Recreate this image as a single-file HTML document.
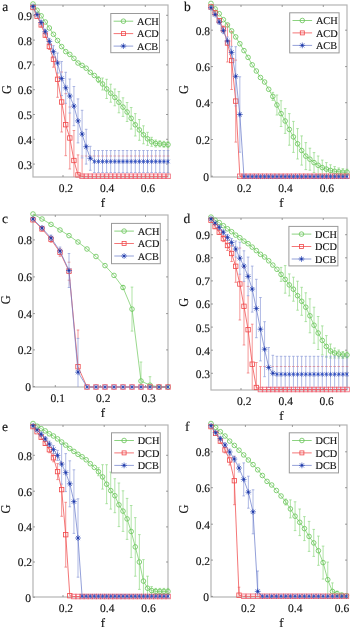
<!DOCTYPE html><html><head><meta charset="utf-8"><style>html,body{margin:0;padding:0;background:#fff;width:350px;height:629px;overflow:hidden}svg{display:block;filter:blur(0.3px)}text{font-family:"Liberation Serif",serif;fill:#151515;stroke:#151515;stroke-width:0.15px;text-rendering:geometricPrecision}</style></head><body>
<svg width="350" height="629" viewBox="0 0 350 629">
<defs>
<clipPath id="cla"><rect x="30" y="2" width="141" height="175.5"/></clipPath>
<clipPath id="cea"><rect x="30" y="5" width="141" height="172"/></clipPath>
<clipPath id="clb"><rect x="208" y="2" width="142" height="175.5"/></clipPath>
<clipPath id="ceb"><rect x="208" y="5" width="142" height="172"/></clipPath>
<clipPath id="clc"><rect x="30" y="212" width="141" height="175.5"/></clipPath>
<clipPath id="cec"><rect x="30" y="215" width="141" height="172"/></clipPath>
<clipPath id="cld"><rect x="208" y="215" width="142" height="175.5"/></clipPath>
<clipPath id="ced"><rect x="208" y="218" width="142" height="172"/></clipPath>
<clipPath id="cle"><rect x="30" y="422" width="141" height="175.5"/></clipPath>
<clipPath id="cee"><rect x="30" y="425" width="141" height="172"/></clipPath>
<clipPath id="clf"><rect x="208" y="422" width="142" height="175.5"/></clipPath>
<clipPath id="cef"><rect x="208" y="425" width="142" height="172"/></clipPath>
<filter id="bl" x="-5%" y="-5%" width="110%" height="110%"><feGaussianBlur stdDeviation="0.35"/></filter>
</defs>
<rect width="350" height="629" fill="#fff"/>
<g><rect x="33" y="5" width="135" height="172" fill="none" stroke="#b4b4b4" stroke-width="1.2"/><path d="M63 177v-2M63 5v2M104.2 177v-2M104.2 5v2M145.3 177v-2M145.3 5v2M33 15.3h2M168 15.3h-2M33 40.1h2M168 40.1h-2M33 64.9h2M168 64.9h-2M33 89.7h2M168 89.7h-2M33 114.5h2M168 114.5h-2M33 139.3h2M168 139.3h-2M33 164.1h2M168 164.1h-2" stroke="#777" stroke-width="0.7" fill="none"/><text x="65.9" y="191.6" font-size="11.5" text-anchor="middle">0.2</text><text x="107.1" y="191.6" font-size="11.5" text-anchor="middle">0.4</text><text x="147.9" y="191.6" font-size="11.5" text-anchor="middle">0.6</text><text x="32" y="19.7" font-size="11.5" text-anchor="end">0.9</text><text x="32" y="44.5" font-size="11.5" text-anchor="end">0.8</text><text x="32" y="69.3" font-size="11.5" text-anchor="end">0.7</text><text x="32" y="94.1" font-size="11.5" text-anchor="end">0.6</text><text x="32" y="118.9" font-size="11.5" text-anchor="end">0.5</text><text x="32" y="143.7" font-size="11.5" text-anchor="end">0.4</text><text x="32" y="168.5" font-size="11.5" text-anchor="end">0.3</text><text x="102.8" y="207.1" font-size="12.8" text-anchor="middle">f</text><text x="0" y="0" font-size="13.5" text-anchor="middle" transform="translate(6.1 89.4) rotate(-90) scale(0.92 1)" dy="4.4">G</text><text x="2.2" y="11.4" font-size="13.5">a</text><g clip-path="url(#cea)"><path d="M98.45 76.6V82.6M97.15 76.6h2.6M97.15 82.6h2.6M102.55 78V90M101.25 78h2.6M101.25 90h2.6M106.64 79.3V98.5M105.34 79.3h2.6M105.34 98.5h2.6M110.73 84.2V102.2M109.43 84.2h2.6M109.43 102.2h2.6M114.82 89V105.8M113.52 89h2.6M113.52 105.8h2.6M118.91 91.6V112.8M117.61 91.6h2.6M117.61 112.8h2.6M123 97.8V116.4M121.7 97.8h2.6M121.7 116.4h2.6M127.09 102.5V121.5M125.79 102.5h2.6M125.79 121.5h2.6M131.18 107.5V129.1M129.88 107.5h2.6M129.88 129.1h2.6M135.27 113.6V136M133.97 113.6h2.6M133.97 136h2.6M139.36 119.5V140.3M138.06 119.5h2.6M138.06 140.3h2.6M143.45 125.8V143.8M142.15 125.8h2.6M142.15 143.8h2.6M147.55 132.3V145.3M146.25 132.3h2.6M146.25 145.3h2.6M151.64 137.3V146.3M150.34 137.3h2.6M150.34 146.3h2.6M155.73 140V147M154.43 140h2.6M154.43 147h2.6M159.82 140.8V146.8M158.52 140.8h2.6M158.52 146.8h2.6M163.91 141.3V147.3M162.61 141.3h2.6M162.61 147.3h2.6M168 141.6V147.6M166.7 141.6h2.6M166.7 147.6h2.6" stroke="#8fd882" stroke-width="0.7" fill="none"/><path d="M41.18 24.5V26.9M39.88 22.9h2.6M39.88 26.9h2.6M45.27 33.7V37.1M43.97 33.1h2.6M43.97 37.1h2.6M49.36 44.4V49.5M48.06 43.5h2.6M48.06 49.5h2.6M53.45 57.7V67.2M52.15 51.2h2.6M52.15 67.2h2.6M57.55 73V97.3M56.25 61.3h2.6M56.25 97.3h2.6M61.64 95.5V132M60.34 72h2.6M60.34 132h2.6M65.73 103.3V155.7M64.43 93.7h2.6M64.43 155.7h2.6M69.82 113V169M68.52 107h2.6M68.52 169h2.6M73.91 130.5V190.5M72.61 130.5h2.6M72.61 190.5h2.6M78 154.9V194.9M76.7 154.9h2.6M76.7 194.9h2.6M82.09 157.9V196.6M80.79 156h2.6M80.79 196.6h2.6M84.88 156h2.6M88.97 156h2.6M93.06 156h2.6M97.15 156h2.6M101.25 156h2.6M105.34 156h2.6M109.43 156h2.6M113.52 156h2.6M117.61 156h2.6M121.7 156h2.6M125.79 156h2.6M129.88 156h2.6M133.97 156h2.6M138.06 156h2.6M142.15 156h2.6M146.25 156h2.6M150.34 156h2.6M154.43 156h2.6M158.52 156h2.6M162.61 156h2.6M166.7 156h2.6" stroke="#f06a6a" stroke-width="0.7" fill="none"/><path d="M41.18 20.5V24.5M39.88 20.5h2.6M39.88 24.5h2.6M45.27 29.7V33.7M43.97 29.7h2.6M43.97 33.7h2.6M49.36 38.4V44.4M48.06 38.4h2.6M48.06 44.4h2.6M53.45 45.7V57.7M52.15 45.7h2.6M52.15 57.7h2.6M57.55 53V73M56.25 53h2.6M56.25 73h2.6M61.64 61.5V95.5M60.34 61.5h2.6M60.34 95.5h2.6M65.73 72.3V103.3M64.43 72.3h2.6M64.43 103.3h2.6M69.82 79V113M68.52 79h2.6M68.52 113h2.6M73.91 86.5V125.7M72.61 86.5h2.6M72.61 125.7h2.6M78 98.9V142.9M76.7 98.9h2.6M76.7 142.9h2.6M82.09 110.3V157.9M80.79 110.3h2.6M80.79 157.9h2.6M86.18 129.3V164.1M84.88 129.3h2.6M84.88 164.1h2.6M90.27 146.3V170.3M88.97 146.3h2.6M88.97 170.3h2.6M94.36 150.5V172.5M93.06 150.5h2.6M93.06 172.5h2.6M98.45 150.5V172.5M97.15 150.5h2.6M97.15 172.5h2.6M102.55 150.5V172.5M101.25 150.5h2.6M101.25 172.5h2.6M106.64 150.5V172.5M105.34 150.5h2.6M105.34 172.5h2.6M110.73 150.5V172.5M109.43 150.5h2.6M109.43 172.5h2.6M114.82 150.5V172.5M113.52 150.5h2.6M113.52 172.5h2.6M118.91 150.5V172.5M117.61 150.5h2.6M117.61 172.5h2.6M123 150.5V172.5M121.7 150.5h2.6M121.7 172.5h2.6M127.09 150.5V172.5M125.79 150.5h2.6M125.79 172.5h2.6M131.18 150.5V172.5M129.88 150.5h2.6M129.88 172.5h2.6M135.27 150.5V172.5M133.97 150.5h2.6M133.97 172.5h2.6M139.36 150.5V172.5M138.06 150.5h2.6M138.06 172.5h2.6M143.45 150.5V172.5M142.15 150.5h2.6M142.15 172.5h2.6M147.55 150.5V172.5M146.25 150.5h2.6M146.25 172.5h2.6M151.64 150.5V172.5M150.34 150.5h2.6M150.34 172.5h2.6M155.73 150.5V172.5M154.43 150.5h2.6M154.43 172.5h2.6M159.82 150.5V172.5M158.52 150.5h2.6M158.52 172.5h2.6M163.91 150.5V172.5M162.61 150.5h2.6M162.61 172.5h2.6M168 150.5V172.5M166.7 150.5h2.6M166.7 172.5h2.6" stroke="#8d9bd8" stroke-width="0.7" fill="none"/></g><polyline points="33,4 37.09,10.2 41.18,15.8 45.27,22 49.36,28 53.45,34.3 57.55,40.5 61.64,46.6 65.73,51.6 69.82,54.4 73.91,58.4 78,63 82.09,65.4 86.18,68.2 90.27,72.3 94.36,75.5 98.45,79.6 102.55,84 106.64,88.9 110.73,93.2 114.82,97.4 118.91,102.2 123,107.1 127.09,112 131.18,118.3 135.27,124.8 139.36,129.9 143.45,134.8 147.55,138.8 151.64,141.8 155.73,143.5 159.82,143.8 163.91,144.3 168,144.6" fill="none" stroke="#78cc68" stroke-width="0.75"/><circle cx="33" cy="4" r="2.3" fill="none" stroke="#66c456" stroke-width="0.8"/><circle cx="37.09" cy="10.2" r="2.3" fill="none" stroke="#66c456" stroke-width="0.8"/><circle cx="41.18" cy="15.8" r="2.3" fill="none" stroke="#66c456" stroke-width="0.8"/><circle cx="45.27" cy="22" r="2.3" fill="none" stroke="#66c456" stroke-width="0.8"/><circle cx="49.36" cy="28" r="2.3" fill="none" stroke="#66c456" stroke-width="0.8"/><circle cx="53.45" cy="34.3" r="2.3" fill="none" stroke="#66c456" stroke-width="0.8"/><circle cx="57.55" cy="40.5" r="2.3" fill="none" stroke="#66c456" stroke-width="0.8"/><circle cx="61.64" cy="46.6" r="2.3" fill="none" stroke="#66c456" stroke-width="0.8"/><circle cx="65.73" cy="51.6" r="2.3" fill="none" stroke="#66c456" stroke-width="0.8"/><circle cx="69.82" cy="54.4" r="2.3" fill="none" stroke="#66c456" stroke-width="0.8"/><circle cx="73.91" cy="58.4" r="2.3" fill="none" stroke="#66c456" stroke-width="0.8"/><circle cx="78" cy="63" r="2.3" fill="none" stroke="#66c456" stroke-width="0.8"/><circle cx="82.09" cy="65.4" r="2.3" fill="none" stroke="#66c456" stroke-width="0.8"/><circle cx="86.18" cy="68.2" r="2.3" fill="none" stroke="#66c456" stroke-width="0.8"/><circle cx="90.27" cy="72.3" r="2.3" fill="none" stroke="#66c456" stroke-width="0.8"/><circle cx="94.36" cy="75.5" r="2.3" fill="none" stroke="#66c456" stroke-width="0.8"/><circle cx="98.45" cy="79.6" r="2.3" fill="none" stroke="#66c456" stroke-width="0.8"/><circle cx="102.55" cy="84" r="2.3" fill="none" stroke="#66c456" stroke-width="0.8"/><circle cx="106.64" cy="88.9" r="2.3" fill="none" stroke="#66c456" stroke-width="0.8"/><circle cx="110.73" cy="93.2" r="2.3" fill="none" stroke="#66c456" stroke-width="0.8"/><circle cx="114.82" cy="97.4" r="2.3" fill="none" stroke="#66c456" stroke-width="0.8"/><circle cx="118.91" cy="102.2" r="2.3" fill="none" stroke="#66c456" stroke-width="0.8"/><circle cx="123" cy="107.1" r="2.3" fill="none" stroke="#66c456" stroke-width="0.8"/><circle cx="127.09" cy="112" r="2.3" fill="none" stroke="#66c456" stroke-width="0.8"/><circle cx="131.18" cy="118.3" r="2.3" fill="none" stroke="#66c456" stroke-width="0.8"/><circle cx="135.27" cy="124.8" r="2.3" fill="none" stroke="#66c456" stroke-width="0.8"/><circle cx="139.36" cy="129.9" r="2.3" fill="none" stroke="#66c456" stroke-width="0.8"/><circle cx="143.45" cy="134.8" r="2.3" fill="none" stroke="#66c456" stroke-width="0.8"/><circle cx="147.55" cy="138.8" r="2.3" fill="none" stroke="#66c456" stroke-width="0.8"/><circle cx="151.64" cy="141.8" r="2.3" fill="none" stroke="#66c456" stroke-width="0.8"/><circle cx="155.73" cy="143.5" r="2.3" fill="none" stroke="#66c456" stroke-width="0.8"/><circle cx="159.82" cy="143.8" r="2.3" fill="none" stroke="#66c456" stroke-width="0.8"/><circle cx="163.91" cy="144.3" r="2.3" fill="none" stroke="#66c456" stroke-width="0.8"/><circle cx="168" cy="144.6" r="2.3" fill="none" stroke="#66c456" stroke-width="0.8"/><polyline points="33,7.5 37.09,16.3 41.18,24.9 45.27,35.1 49.36,46.5 53.45,59.2 57.55,79.3 61.64,102 65.73,124.7 69.82,138 73.91,160.5 78,174.9 82.09,176.3 86.18,176.3 90.27,176.3 94.36,176.3 98.45,176.3 102.55,176.3 106.64,176.3 110.73,176.3 114.82,176.3 118.91,176.3 123,176.3 127.09,176.3 131.18,176.3 135.27,176.3 139.36,176.3 143.45,176.3 147.55,176.3 151.64,176.3 155.73,176.3 159.82,176.3 163.91,176.3 168,176.3" fill="none" stroke="#f0484a" stroke-width="0.75"/><rect x="30.8" y="5.3" width="4.4" height="4.4" fill="none" stroke="#f0484a" stroke-width="0.8"/><rect x="34.89" y="14.1" width="4.4" height="4.4" fill="none" stroke="#f0484a" stroke-width="0.8"/><rect x="38.98" y="22.7" width="4.4" height="4.4" fill="none" stroke="#f0484a" stroke-width="0.8"/><rect x="43.07" y="32.9" width="4.4" height="4.4" fill="none" stroke="#f0484a" stroke-width="0.8"/><rect x="47.16" y="44.3" width="4.4" height="4.4" fill="none" stroke="#f0484a" stroke-width="0.8"/><rect x="51.25" y="57" width="4.4" height="4.4" fill="none" stroke="#f0484a" stroke-width="0.8"/><rect x="55.35" y="77.1" width="4.4" height="4.4" fill="none" stroke="#f0484a" stroke-width="0.8"/><rect x="59.44" y="99.8" width="4.4" height="4.4" fill="none" stroke="#f0484a" stroke-width="0.8"/><rect x="63.53" y="122.5" width="4.4" height="4.4" fill="none" stroke="#f0484a" stroke-width="0.8"/><rect x="67.62" y="135.8" width="4.4" height="4.4" fill="none" stroke="#f0484a" stroke-width="0.8"/><rect x="71.71" y="158.3" width="4.4" height="4.4" fill="none" stroke="#f0484a" stroke-width="0.8"/><rect x="75.8" y="172.7" width="4.4" height="4.4" fill="none" stroke="#f0484a" stroke-width="0.8"/><rect x="79.79" y="174" width="4.6" height="4.6" fill="none" stroke="#f06070" stroke-width="0.8"/><rect x="83.88" y="174" width="4.6" height="4.6" fill="none" stroke="#f06070" stroke-width="0.8"/><rect x="87.97" y="174" width="4.6" height="4.6" fill="none" stroke="#f06070" stroke-width="0.8"/><rect x="92.06" y="174" width="4.6" height="4.6" fill="none" stroke="#f06070" stroke-width="0.8"/><rect x="96.15" y="174" width="4.6" height="4.6" fill="none" stroke="#f06070" stroke-width="0.8"/><rect x="100.25" y="174" width="4.6" height="4.6" fill="none" stroke="#f06070" stroke-width="0.8"/><rect x="104.34" y="174" width="4.6" height="4.6" fill="none" stroke="#f06070" stroke-width="0.8"/><rect x="108.43" y="174" width="4.6" height="4.6" fill="none" stroke="#f06070" stroke-width="0.8"/><rect x="112.52" y="174" width="4.6" height="4.6" fill="none" stroke="#f06070" stroke-width="0.8"/><rect x="116.61" y="174" width="4.6" height="4.6" fill="none" stroke="#f06070" stroke-width="0.8"/><rect x="120.7" y="174" width="4.6" height="4.6" fill="none" stroke="#f06070" stroke-width="0.8"/><rect x="124.79" y="174" width="4.6" height="4.6" fill="none" stroke="#f06070" stroke-width="0.8"/><rect x="128.88" y="174" width="4.6" height="4.6" fill="none" stroke="#f06070" stroke-width="0.8"/><rect x="132.97" y="174" width="4.6" height="4.6" fill="none" stroke="#f06070" stroke-width="0.8"/><rect x="137.06" y="174" width="4.6" height="4.6" fill="none" stroke="#f06070" stroke-width="0.8"/><rect x="141.15" y="174" width="4.6" height="4.6" fill="none" stroke="#f06070" stroke-width="0.8"/><rect x="145.25" y="174" width="4.6" height="4.6" fill="none" stroke="#f06070" stroke-width="0.8"/><rect x="149.34" y="174" width="4.6" height="4.6" fill="none" stroke="#f06070" stroke-width="0.8"/><rect x="153.43" y="174" width="4.6" height="4.6" fill="none" stroke="#f06070" stroke-width="0.8"/><rect x="157.52" y="174" width="4.6" height="4.6" fill="none" stroke="#f06070" stroke-width="0.8"/><rect x="161.61" y="174" width="4.6" height="4.6" fill="none" stroke="#f06070" stroke-width="0.8"/><rect x="165.7" y="174" width="4.6" height="4.6" fill="none" stroke="#f06070" stroke-width="0.8"/><polyline points="33,6.4 37.09,14.6 41.18,22.5 45.27,31.7 49.36,41.4 53.45,51.7 57.55,63 61.64,78.5 65.73,87.8 69.82,96 73.91,106.1 78,120.9 82.09,134.1 86.18,146.7 90.27,158.3 94.36,161.5 98.45,161.5 102.55,161.5 106.64,161.5 110.73,161.5 114.82,161.5 118.91,161.5 123,161.5 127.09,161.5 131.18,161.5 135.27,161.5 139.36,161.5 143.45,161.5 147.55,161.5 151.64,161.5 155.73,161.5 159.82,161.5 163.91,161.5 168,161.5" fill="none" stroke="#6f80cc" stroke-width="0.75"/><path d="M30.1 6.4h5.8M33 3.5v5.8M30.91 4.31l4.18 4.18M30.91 8.49l4.18 -4.18" stroke="#3550b8" stroke-width="0.72" stroke-opacity="1" fill="none"/><circle cx="33" cy="6.4" r="1.1" fill="#1f3aa8"/><path d="M34.19 14.6h5.8M37.09 11.7v5.8M35 12.51l4.18 4.18M35 16.69l4.18 -4.18" stroke="#3550b8" stroke-width="0.72" stroke-opacity="1" fill="none"/><circle cx="37.09" cy="14.6" r="1.1" fill="#1f3aa8"/><path d="M38.28 22.5h5.8M41.18 19.6v5.8M39.09 20.41l4.18 4.18M39.09 24.59l4.18 -4.18" stroke="#3550b8" stroke-width="0.72" stroke-opacity="1" fill="none"/><circle cx="41.18" cy="22.5" r="1.1" fill="#1f3aa8"/><path d="M42.37 31.7h5.8M45.27 28.8v5.8M43.18 29.61l4.18 4.18M43.18 33.79l4.18 -4.18" stroke="#3550b8" stroke-width="0.72" stroke-opacity="1" fill="none"/><circle cx="45.27" cy="31.7" r="1.1" fill="#1f3aa8"/><path d="M46.46 41.4h5.8M49.36 38.5v5.8M47.28 39.31l4.18 4.18M47.28 43.49l4.18 -4.18" stroke="#3550b8" stroke-width="0.72" stroke-opacity="1" fill="none"/><circle cx="49.36" cy="41.4" r="1.1" fill="#1f3aa8"/><path d="M50.55 51.7h5.8M53.45 48.8v5.8M51.37 49.61l4.18 4.18M51.37 53.79l4.18 -4.18" stroke="#3550b8" stroke-width="0.72" stroke-opacity="1" fill="none"/><circle cx="53.45" cy="51.7" r="1.1" fill="#1f3aa8"/><path d="M54.65 63h5.8M57.55 60.1v5.8M55.46 60.91l4.18 4.18M55.46 65.09l4.18 -4.18" stroke="#3550b8" stroke-width="0.72" stroke-opacity="1" fill="none"/><circle cx="57.55" cy="63" r="1.1" fill="#1f3aa8"/><path d="M58.74 78.5h5.8M61.64 75.6v5.8M59.55 76.41l4.18 4.18M59.55 80.59l4.18 -4.18" stroke="#3550b8" stroke-width="0.72" stroke-opacity="1" fill="none"/><circle cx="61.64" cy="78.5" r="1.1" fill="#1f3aa8"/><path d="M62.83 87.8h5.8M65.73 84.9v5.8M63.64 85.71l4.18 4.18M63.64 89.89l4.18 -4.18" stroke="#3550b8" stroke-width="0.72" stroke-opacity="1" fill="none"/><circle cx="65.73" cy="87.8" r="1.1" fill="#1f3aa8"/><path d="M66.92 96h5.8M69.82 93.1v5.8M67.73 93.91l4.18 4.18M67.73 98.09l4.18 -4.18" stroke="#3550b8" stroke-width="0.72" stroke-opacity="1" fill="none"/><circle cx="69.82" cy="96" r="1.1" fill="#1f3aa8"/><path d="M71.01 106.1h5.8M73.91 103.2v5.8M71.82 104.01l4.18 4.18M71.82 108.19l4.18 -4.18" stroke="#3550b8" stroke-width="0.72" stroke-opacity="1" fill="none"/><circle cx="73.91" cy="106.1" r="1.1" fill="#1f3aa8"/><path d="M75.1 120.9h5.8M78 118v5.8M75.91 118.81l4.18 4.18M75.91 122.99l4.18 -4.18" stroke="#3550b8" stroke-width="0.72" stroke-opacity="1" fill="none"/><circle cx="78" cy="120.9" r="1.1" fill="#1f3aa8"/><path d="M79.19 134.1h5.8M82.09 131.2v5.8M80 132.01l4.18 4.18M80 136.19l4.18 -4.18" stroke="#3550b8" stroke-width="0.72" stroke-opacity="1" fill="none"/><circle cx="82.09" cy="134.1" r="1.1" fill="#1f3aa8"/><path d="M83.28 146.7h5.8M86.18 143.8v5.8M84.09 144.61l4.18 4.18M84.09 148.79l4.18 -4.18" stroke="#3550b8" stroke-width="0.72" stroke-opacity="1" fill="none"/><circle cx="86.18" cy="146.7" r="1.1" fill="#1f3aa8"/><path d="M87.37 158.3h5.8M90.27 155.4v5.8M88.18 156.21l4.18 4.18M88.18 160.39l4.18 -4.18" stroke="#3550b8" stroke-width="0.72" stroke-opacity="1" fill="none"/><circle cx="90.27" cy="158.3" r="1.1" fill="#1f3aa8"/><path d="M94.36 159v5M92.56 159.7l3.6 3.6M92.56 163.3l3.6 -3.6" stroke="#3f56bc" stroke-width="0.7" stroke-opacity="1" fill="none"/><circle cx="94.36" cy="161.5" r="1" fill="#2c50c4"/><path d="M98.45 159v5M96.65 159.7l3.6 3.6M96.65 163.3l3.6 -3.6" stroke="#3f56bc" stroke-width="0.7" stroke-opacity="1" fill="none"/><circle cx="98.45" cy="161.5" r="1" fill="#2c50c4"/><path d="M102.55 159v5M100.75 159.7l3.6 3.6M100.75 163.3l3.6 -3.6" stroke="#3f56bc" stroke-width="0.7" stroke-opacity="1" fill="none"/><circle cx="102.55" cy="161.5" r="1" fill="#2c50c4"/><path d="M106.64 159v5M104.84 159.7l3.6 3.6M104.84 163.3l3.6 -3.6" stroke="#3f56bc" stroke-width="0.7" stroke-opacity="1" fill="none"/><circle cx="106.64" cy="161.5" r="1" fill="#2c50c4"/><path d="M110.73 159v5M108.93 159.7l3.6 3.6M108.93 163.3l3.6 -3.6" stroke="#3f56bc" stroke-width="0.7" stroke-opacity="1" fill="none"/><circle cx="110.73" cy="161.5" r="1" fill="#2c50c4"/><path d="M114.82 159v5M113.02 159.7l3.6 3.6M113.02 163.3l3.6 -3.6" stroke="#3f56bc" stroke-width="0.7" stroke-opacity="1" fill="none"/><circle cx="114.82" cy="161.5" r="1" fill="#2c50c4"/><path d="M118.91 159v5M117.11 159.7l3.6 3.6M117.11 163.3l3.6 -3.6" stroke="#3f56bc" stroke-width="0.7" stroke-opacity="1" fill="none"/><circle cx="118.91" cy="161.5" r="1" fill="#2c50c4"/><path d="M123 159v5M121.2 159.7l3.6 3.6M121.2 163.3l3.6 -3.6" stroke="#3f56bc" stroke-width="0.7" stroke-opacity="1" fill="none"/><circle cx="123" cy="161.5" r="1" fill="#2c50c4"/><path d="M127.09 159v5M125.29 159.7l3.6 3.6M125.29 163.3l3.6 -3.6" stroke="#3f56bc" stroke-width="0.7" stroke-opacity="1" fill="none"/><circle cx="127.09" cy="161.5" r="1" fill="#2c50c4"/><path d="M131.18 159v5M129.38 159.7l3.6 3.6M129.38 163.3l3.6 -3.6" stroke="#3f56bc" stroke-width="0.7" stroke-opacity="1" fill="none"/><circle cx="131.18" cy="161.5" r="1" fill="#2c50c4"/><path d="M135.27 159v5M133.47 159.7l3.6 3.6M133.47 163.3l3.6 -3.6" stroke="#3f56bc" stroke-width="0.7" stroke-opacity="1" fill="none"/><circle cx="135.27" cy="161.5" r="1" fill="#2c50c4"/><path d="M139.36 159v5M137.56 159.7l3.6 3.6M137.56 163.3l3.6 -3.6" stroke="#3f56bc" stroke-width="0.7" stroke-opacity="1" fill="none"/><circle cx="139.36" cy="161.5" r="1" fill="#2c50c4"/><path d="M143.45 159v5M141.65 159.7l3.6 3.6M141.65 163.3l3.6 -3.6" stroke="#3f56bc" stroke-width="0.7" stroke-opacity="1" fill="none"/><circle cx="143.45" cy="161.5" r="1" fill="#2c50c4"/><path d="M147.55 159v5M145.75 159.7l3.6 3.6M145.75 163.3l3.6 -3.6" stroke="#3f56bc" stroke-width="0.7" stroke-opacity="1" fill="none"/><circle cx="147.55" cy="161.5" r="1" fill="#2c50c4"/><path d="M151.64 159v5M149.84 159.7l3.6 3.6M149.84 163.3l3.6 -3.6" stroke="#3f56bc" stroke-width="0.7" stroke-opacity="1" fill="none"/><circle cx="151.64" cy="161.5" r="1" fill="#2c50c4"/><path d="M155.73 159v5M153.93 159.7l3.6 3.6M153.93 163.3l3.6 -3.6" stroke="#3f56bc" stroke-width="0.7" stroke-opacity="1" fill="none"/><circle cx="155.73" cy="161.5" r="1" fill="#2c50c4"/><path d="M159.82 159v5M158.02 159.7l3.6 3.6M158.02 163.3l3.6 -3.6" stroke="#3f56bc" stroke-width="0.7" stroke-opacity="1" fill="none"/><circle cx="159.82" cy="161.5" r="1" fill="#2c50c4"/><path d="M163.91 159v5M162.11 159.7l3.6 3.6M162.11 163.3l3.6 -3.6" stroke="#3f56bc" stroke-width="0.7" stroke-opacity="1" fill="none"/><circle cx="163.91" cy="161.5" r="1" fill="#2c50c4"/><path d="M168 159v5M166.2 159.7l3.6 3.6M166.2 163.3l3.6 -3.6" stroke="#3f56bc" stroke-width="0.7" stroke-opacity="1" fill="none"/><circle cx="168" cy="161.5" r="1" fill="#2c50c4"/><rect x="110.8" y="13.5" width="48.7" height="39.2" fill="#fff" stroke="#9a9a9a" stroke-width="1"/><path d="M113.6 21.2h19.6" stroke="#66c456" stroke-width="0.75"/><circle cx="123.4" cy="21.2" r="2.3" fill="none" stroke="#66c456" stroke-width="0.8"/><text x="137" y="24.8" font-size="10.3">ACH</text><path d="M113.6 33.6h19.6" stroke="#f0484a" stroke-width="0.75"/><rect x="121.4" y="31.6" width="4" height="4" fill="none" stroke="#f0484a" stroke-width="0.8"/><text x="137" y="37.2" font-size="10.3">ACD</text><path d="M113.6 46.1h19.6" stroke="#6f80cc" stroke-width="0.75"/><path d="M120.5 46.1h5.8M123.4 43.2v5.8M121.31 44.01l4.18 4.18M121.31 48.19l4.18 -4.18" stroke="#3550b8" stroke-width="0.72" stroke-opacity="1" fill="none"/><circle cx="123.4" cy="46.1" r="1.1" fill="#1f3aa8"/><text x="137" y="49.7" font-size="10.3">ACB</text></g>
<g><rect x="211" y="5" width="136" height="172" fill="none" stroke="#b4b4b4" stroke-width="1.2"/><path d="M241 177v-2M241 5v2M282.2 177v-2M282.2 5v2M323.3 177v-2M323.3 5v2M211 176.2h2M347 176.2h-2M211 139.5h2M347 139.5h-2M211 102.7h2M347 102.7h-2M211 66.6h2M347 66.6h-2M211 30.2h2M347 30.2h-2" stroke="#777" stroke-width="0.7" fill="none"/><text x="244.3" y="191.6" font-size="11.5" text-anchor="middle">0.2</text><text x="285.5" y="191.6" font-size="11.5" text-anchor="middle">0.4</text><text x="326.9" y="191.6" font-size="11.5" text-anchor="middle">0.6</text><text x="208.9" y="180.6" font-size="11.5" text-anchor="end">0</text><text x="210" y="143.9" font-size="11.5" text-anchor="end">0.2</text><text x="210" y="107.1" font-size="11.5" text-anchor="end">0.4</text><text x="210" y="71" font-size="11.5" text-anchor="end">0.6</text><text x="210" y="34.6" font-size="11.5" text-anchor="end">0.8</text><text x="281.3" y="207.1" font-size="12.8" text-anchor="middle">f</text><text x="0" y="0" font-size="13.5" text-anchor="middle" transform="translate(183.8 89.5) rotate(-90) scale(0.92 1)" dy="4.4">G</text><text x="184" y="11.4" font-size="13.5">b</text><g clip-path="url(#ceb)"><path d="M272.82 92.4V100.4M271.52 92.4h2.6M271.52 100.4h2.6M276.94 95V115M275.64 95h2.6M275.64 115h2.6M281.06 100.7V126.5M279.76 100.7h2.6M279.76 126.5h2.6M285.18 108.6V133.4M283.88 108.6h2.6M283.88 133.4h2.6M289.3 113.6V145.2M288 113.6h2.6M288 145.2h2.6M293.42 121.4V152.4M292.12 121.4h2.6M292.12 152.4h2.6M297.55 128.6V159M296.25 128.6h2.6M296.25 159h2.6M301.67 135.9V165.1M300.37 135.9h2.6M300.37 165.1h2.6M305.79 142.6V169.6M304.49 142.6h2.6M304.49 169.6h2.6M309.91 148.2V170.2M308.61 148.2h2.6M308.61 170.2h2.6M314.03 152.6V172.6M312.73 152.6h2.6M312.73 172.6h2.6M318.15 156V174.6M316.85 156h2.6M316.85 174.6h2.6M322.27 160.1V175.1M320.97 160.1h2.6M320.97 175.1h2.6M326.39 162.6V175.6M325.09 162.6h2.6M325.09 175.6h2.6M330.52 164.8V176M329.22 164.8h2.6M329.22 176h2.6M334.64 166.6V176M333.34 166.6h2.6M333.34 176h2.6M338.76 168V175.6M337.46 168h2.6M337.46 175.6h2.6M342.88 168.7V175.7M341.58 168.7h2.6M341.58 175.7h2.6M347 169.2V175.2M345.7 169.2h2.6M345.7 175.2h2.6" stroke="#8fd882" stroke-width="0.7" fill="none"/><path d="M215.12 10.9V14.9M213.82 10.9h2.6M213.82 14.9h2.6M219.24 18.6V20M217.94 18.6h2.6M217.94 22.6h2.6M223.36 26V27.7M222.06 26h2.6M222.06 32h2.6M227.48 24V37M227.48 45V62M226.18 24h2.6M226.18 62h2.6M231.61 31.5V46.4M231.61 58.4V89.5M230.31 31.5h2.6M230.31 89.5h2.6M235.73 105.9V142.1M234.43 60.1h2.6M234.43 142.1h2.6" stroke="#f06a6a" stroke-width="0.7" fill="none"/><path d="M219.24 20V24M217.94 20h2.6M217.94 24h2.6M223.36 27.7V33.7M222.06 27.7h2.6M222.06 33.7h2.6M227.48 37V45M226.18 37h2.6M226.18 45h2.6M231.61 46.4V58.4M230.31 46.4h2.6M230.31 58.4h2.6M235.73 46.7V105.9M234.43 46.7h2.6M234.43 105.9h2.6M239.85 76.8V152.2M238.55 76.8h2.6M238.55 152.2h2.6" stroke="#8d9bd8" stroke-width="0.7" fill="none"/></g><polyline points="211,3.4 215.12,8.9 219.24,13.7 223.36,19.7 227.48,24.9 231.61,30.9 235.73,36.9 239.85,43.7 243.97,50.6 248.09,57.4 252.21,64.8 256.33,71 260.45,77.5 264.58,82 268.7,89.3 272.82,96.4 276.94,105 281.06,113.6 285.18,121 289.3,129.4 293.42,136.9 297.55,143.8 301.67,150.5 305.79,156.1 309.91,159.2 314.03,162.6 318.15,165.3 322.27,167.6 326.39,169.1 330.52,170.4 334.64,171.3 338.76,171.8 342.88,172.2 347,172.2" fill="none" stroke="#78cc68" stroke-width="0.75"/><circle cx="211" cy="3.4" r="2.3" fill="none" stroke="#66c456" stroke-width="0.8"/><circle cx="215.12" cy="8.9" r="2.3" fill="none" stroke="#66c456" stroke-width="0.8"/><circle cx="219.24" cy="13.7" r="2.3" fill="none" stroke="#66c456" stroke-width="0.8"/><circle cx="223.36" cy="19.7" r="2.3" fill="none" stroke="#66c456" stroke-width="0.8"/><circle cx="227.48" cy="24.9" r="2.3" fill="none" stroke="#66c456" stroke-width="0.8"/><circle cx="231.61" cy="30.9" r="2.3" fill="none" stroke="#66c456" stroke-width="0.8"/><circle cx="235.73" cy="36.9" r="2.3" fill="none" stroke="#66c456" stroke-width="0.8"/><circle cx="239.85" cy="43.7" r="2.3" fill="none" stroke="#66c456" stroke-width="0.8"/><circle cx="243.97" cy="50.6" r="2.3" fill="none" stroke="#66c456" stroke-width="0.8"/><circle cx="248.09" cy="57.4" r="2.3" fill="none" stroke="#66c456" stroke-width="0.8"/><circle cx="252.21" cy="64.8" r="2.3" fill="none" stroke="#66c456" stroke-width="0.8"/><circle cx="256.33" cy="71" r="2.3" fill="none" stroke="#66c456" stroke-width="0.8"/><circle cx="260.45" cy="77.5" r="2.3" fill="none" stroke="#66c456" stroke-width="0.8"/><circle cx="264.58" cy="82" r="2.3" fill="none" stroke="#66c456" stroke-width="0.8"/><circle cx="268.7" cy="89.3" r="2.3" fill="none" stroke="#66c456" stroke-width="0.8"/><circle cx="272.82" cy="96.4" r="2.3" fill="none" stroke="#66c456" stroke-width="0.8"/><circle cx="276.94" cy="105" r="2.3" fill="none" stroke="#66c456" stroke-width="0.8"/><circle cx="281.06" cy="113.6" r="2.3" fill="none" stroke="#66c456" stroke-width="0.8"/><circle cx="285.18" cy="121" r="2.3" fill="none" stroke="#66c456" stroke-width="0.8"/><circle cx="289.3" cy="129.4" r="2.3" fill="none" stroke="#66c456" stroke-width="0.8"/><circle cx="293.42" cy="136.9" r="2.3" fill="none" stroke="#66c456" stroke-width="0.8"/><circle cx="297.55" cy="143.8" r="2.3" fill="none" stroke="#66c456" stroke-width="0.8"/><circle cx="301.67" cy="150.5" r="2.3" fill="none" stroke="#66c456" stroke-width="0.8"/><circle cx="305.79" cy="156.1" r="2.3" fill="none" stroke="#66c456" stroke-width="0.8"/><circle cx="309.91" cy="159.2" r="2.3" fill="none" stroke="#66c456" stroke-width="0.8"/><circle cx="314.03" cy="162.6" r="2.3" fill="none" stroke="#66c456" stroke-width="0.8"/><circle cx="318.15" cy="165.3" r="2.3" fill="none" stroke="#66c456" stroke-width="0.8"/><circle cx="322.27" cy="167.6" r="2.3" fill="none" stroke="#66c456" stroke-width="0.8"/><circle cx="326.39" cy="169.1" r="2.3" fill="none" stroke="#66c456" stroke-width="0.8"/><circle cx="330.52" cy="170.4" r="2.3" fill="none" stroke="#66c456" stroke-width="0.8"/><circle cx="334.64" cy="171.3" r="2.3" fill="none" stroke="#66c456" stroke-width="0.8"/><circle cx="338.76" cy="171.8" r="2.3" fill="none" stroke="#66c456" stroke-width="0.8"/><circle cx="342.88" cy="172.2" r="2.3" fill="none" stroke="#66c456" stroke-width="0.8"/><circle cx="347" cy="172.2" r="2.3" fill="none" stroke="#66c456" stroke-width="0.8"/><polyline points="211,6.9 215.12,12.9 219.24,20.6 223.36,29 227.48,43 231.61,60.5 235.73,101.1 239.85,176.3 243.97,176.3 248.09,176.3 252.21,176.3 256.33,176.3 260.45,176.3 264.58,176.3 268.7,176.3 272.82,176.3 276.94,176.3 281.06,176.3 285.18,176.3 289.3,176.3 293.42,176.3 297.55,176.3 301.67,176.3 305.79,176.3 309.91,176.3 314.03,176.3 318.15,176.3 322.27,176.3 326.39,176.3 330.52,176.3 334.64,176.3 338.76,176.3 342.88,176.3 347,176.3" fill="none" stroke="#f0484a" stroke-width="0.75"/><rect x="208.8" y="4.7" width="4.4" height="4.4" fill="none" stroke="#f0484a" stroke-width="0.8"/><rect x="212.92" y="10.7" width="4.4" height="4.4" fill="none" stroke="#f0484a" stroke-width="0.8"/><rect x="217.04" y="18.4" width="4.4" height="4.4" fill="none" stroke="#f0484a" stroke-width="0.8"/><rect x="221.16" y="26.8" width="4.4" height="4.4" fill="none" stroke="#f0484a" stroke-width="0.8"/><rect x="225.28" y="40.8" width="4.4" height="4.4" fill="none" stroke="#f0484a" stroke-width="0.8"/><rect x="229.41" y="58.3" width="4.4" height="4.4" fill="none" stroke="#f0484a" stroke-width="0.8"/><rect x="233.53" y="98.9" width="4.4" height="4.4" fill="none" stroke="#f0484a" stroke-width="0.8"/><rect x="237.55" y="174" width="4.6" height="4.6" fill="none" stroke="#f06070" stroke-width="0.8"/><rect x="241.67" y="174" width="4.6" height="4.6" fill="none" stroke="#f06070" stroke-width="0.8"/><rect x="245.79" y="174" width="4.6" height="4.6" fill="none" stroke="#f06070" stroke-width="0.8"/><rect x="249.91" y="174" width="4.6" height="4.6" fill="none" stroke="#f06070" stroke-width="0.8"/><rect x="254.03" y="174" width="4.6" height="4.6" fill="none" stroke="#f06070" stroke-width="0.8"/><rect x="258.15" y="174" width="4.6" height="4.6" fill="none" stroke="#f06070" stroke-width="0.8"/><rect x="262.28" y="174" width="4.6" height="4.6" fill="none" stroke="#f06070" stroke-width="0.8"/><rect x="266.4" y="174" width="4.6" height="4.6" fill="none" stroke="#f06070" stroke-width="0.8"/><rect x="270.52" y="174" width="4.6" height="4.6" fill="none" stroke="#f06070" stroke-width="0.8"/><rect x="274.64" y="174" width="4.6" height="4.6" fill="none" stroke="#f06070" stroke-width="0.8"/><rect x="278.76" y="174" width="4.6" height="4.6" fill="none" stroke="#f06070" stroke-width="0.8"/><rect x="282.88" y="174" width="4.6" height="4.6" fill="none" stroke="#f06070" stroke-width="0.8"/><rect x="287" y="174" width="4.6" height="4.6" fill="none" stroke="#f06070" stroke-width="0.8"/><rect x="291.12" y="174" width="4.6" height="4.6" fill="none" stroke="#f06070" stroke-width="0.8"/><rect x="295.25" y="174" width="4.6" height="4.6" fill="none" stroke="#f06070" stroke-width="0.8"/><rect x="299.37" y="174" width="4.6" height="4.6" fill="none" stroke="#f06070" stroke-width="0.8"/><rect x="303.49" y="174" width="4.6" height="4.6" fill="none" stroke="#f06070" stroke-width="0.8"/><rect x="307.61" y="174" width="4.6" height="4.6" fill="none" stroke="#f06070" stroke-width="0.8"/><rect x="311.73" y="174" width="4.6" height="4.6" fill="none" stroke="#f06070" stroke-width="0.8"/><rect x="315.85" y="174" width="4.6" height="4.6" fill="none" stroke="#f06070" stroke-width="0.8"/><rect x="319.97" y="174" width="4.6" height="4.6" fill="none" stroke="#f06070" stroke-width="0.8"/><rect x="324.09" y="174" width="4.6" height="4.6" fill="none" stroke="#f06070" stroke-width="0.8"/><rect x="328.22" y="174" width="4.6" height="4.6" fill="none" stroke="#f06070" stroke-width="0.8"/><rect x="332.34" y="174" width="4.6" height="4.6" fill="none" stroke="#f06070" stroke-width="0.8"/><rect x="336.46" y="174" width="4.6" height="4.6" fill="none" stroke="#f06070" stroke-width="0.8"/><rect x="340.58" y="174" width="4.6" height="4.6" fill="none" stroke="#f06070" stroke-width="0.8"/><rect x="344.7" y="174" width="4.6" height="4.6" fill="none" stroke="#f06070" stroke-width="0.8"/><polyline points="211,7.7 215.12,14.6 219.24,22 223.36,30.7 227.48,41 231.61,52.4 235.73,76.3 239.85,114.5 243.97,176.6 248.09,176.6 252.21,176.6 256.33,176.6 260.45,176.6 264.58,176.6 268.7,176.6 272.82,176.6 276.94,176.6 281.06,176.6 285.18,176.6 289.3,176.6 293.42,176.6 297.55,176.6 301.67,176.6 305.79,176.6 309.91,176.6 314.03,176.6 318.15,176.6 322.27,176.6 326.39,176.6 330.52,176.6 334.64,176.6 338.76,176.6 342.88,176.6 347,176.6" fill="none" stroke="#6f80cc" stroke-width="0.75"/><path d="M208.1 7.7h5.8M211 4.8v5.8M208.91 5.61l4.18 4.18M208.91 9.79l4.18 -4.18" stroke="#3550b8" stroke-width="0.72" stroke-opacity="1" fill="none"/><circle cx="211" cy="7.7" r="1.1" fill="#1f3aa8"/><path d="M212.22 14.6h5.8M215.12 11.7v5.8M213.03 12.51l4.18 4.18M213.03 16.69l4.18 -4.18" stroke="#3550b8" stroke-width="0.72" stroke-opacity="1" fill="none"/><circle cx="215.12" cy="14.6" r="1.1" fill="#1f3aa8"/><path d="M216.34 22h5.8M219.24 19.1v5.8M217.15 19.91l4.18 4.18M217.15 24.09l4.18 -4.18" stroke="#3550b8" stroke-width="0.72" stroke-opacity="1" fill="none"/><circle cx="219.24" cy="22" r="1.1" fill="#1f3aa8"/><path d="M220.46 30.7h5.8M223.36 27.8v5.8M221.28 28.61l4.18 4.18M221.28 32.79l4.18 -4.18" stroke="#3550b8" stroke-width="0.72" stroke-opacity="1" fill="none"/><circle cx="223.36" cy="30.7" r="1.1" fill="#1f3aa8"/><path d="M224.58 41h5.8M227.48 38.1v5.8M225.4 38.91l4.18 4.18M225.4 43.09l4.18 -4.18" stroke="#3550b8" stroke-width="0.72" stroke-opacity="1" fill="none"/><circle cx="227.48" cy="41" r="1.1" fill="#1f3aa8"/><path d="M228.71 52.4h5.8M231.61 49.5v5.8M229.52 50.31l4.18 4.18M229.52 54.49l4.18 -4.18" stroke="#3550b8" stroke-width="0.72" stroke-opacity="1" fill="none"/><circle cx="231.61" cy="52.4" r="1.1" fill="#1f3aa8"/><path d="M232.83 76.3h5.8M235.73 73.4v5.8M233.64 74.21l4.18 4.18M233.64 78.39l4.18 -4.18" stroke="#3550b8" stroke-width="0.72" stroke-opacity="1" fill="none"/><circle cx="235.73" cy="76.3" r="1.1" fill="#1f3aa8"/><path d="M236.95 114.5h5.8M239.85 111.6v5.8M237.76 112.41l4.18 4.18M237.76 116.59l4.18 -4.18" stroke="#3550b8" stroke-width="0.72" stroke-opacity="1" fill="none"/><circle cx="239.85" cy="114.5" r="1.1" fill="#1f3aa8"/><path d="M243.97 174.1v5M242.17 174.8l3.6 3.6M242.17 178.4l3.6 -3.6" stroke="#3f56bc" stroke-width="0.7" stroke-opacity="1" fill="none"/><circle cx="243.97" cy="176.6" r="1" fill="#2c50c4"/><path d="M248.09 174.1v5M246.29 174.8l3.6 3.6M246.29 178.4l3.6 -3.6" stroke="#3f56bc" stroke-width="0.7" stroke-opacity="1" fill="none"/><circle cx="248.09" cy="176.6" r="1" fill="#2c50c4"/><path d="M252.21 174.1v5M250.41 174.8l3.6 3.6M250.41 178.4l3.6 -3.6" stroke="#3f56bc" stroke-width="0.7" stroke-opacity="1" fill="none"/><circle cx="252.21" cy="176.6" r="1" fill="#2c50c4"/><path d="M256.33 174.1v5M254.53 174.8l3.6 3.6M254.53 178.4l3.6 -3.6" stroke="#3f56bc" stroke-width="0.7" stroke-opacity="1" fill="none"/><circle cx="256.33" cy="176.6" r="1" fill="#2c50c4"/><path d="M260.45 174.1v5M258.65 174.8l3.6 3.6M258.65 178.4l3.6 -3.6" stroke="#3f56bc" stroke-width="0.7" stroke-opacity="1" fill="none"/><circle cx="260.45" cy="176.6" r="1" fill="#2c50c4"/><path d="M264.58 174.1v5M262.78 174.8l3.6 3.6M262.78 178.4l3.6 -3.6" stroke="#3f56bc" stroke-width="0.7" stroke-opacity="1" fill="none"/><circle cx="264.58" cy="176.6" r="1" fill="#2c50c4"/><path d="M268.7 174.1v5M266.9 174.8l3.6 3.6M266.9 178.4l3.6 -3.6" stroke="#3f56bc" stroke-width="0.7" stroke-opacity="1" fill="none"/><circle cx="268.7" cy="176.6" r="1" fill="#2c50c4"/><path d="M272.82 174.1v5M271.02 174.8l3.6 3.6M271.02 178.4l3.6 -3.6" stroke="#3f56bc" stroke-width="0.7" stroke-opacity="1" fill="none"/><circle cx="272.82" cy="176.6" r="1" fill="#2c50c4"/><path d="M276.94 174.1v5M275.14 174.8l3.6 3.6M275.14 178.4l3.6 -3.6" stroke="#3f56bc" stroke-width="0.7" stroke-opacity="1" fill="none"/><circle cx="276.94" cy="176.6" r="1" fill="#2c50c4"/><path d="M281.06 174.1v5M279.26 174.8l3.6 3.6M279.26 178.4l3.6 -3.6" stroke="#3f56bc" stroke-width="0.7" stroke-opacity="1" fill="none"/><circle cx="281.06" cy="176.6" r="1" fill="#2c50c4"/><path d="M285.18 174.1v5M283.38 174.8l3.6 3.6M283.38 178.4l3.6 -3.6" stroke="#3f56bc" stroke-width="0.7" stroke-opacity="1" fill="none"/><circle cx="285.18" cy="176.6" r="1" fill="#2c50c4"/><path d="M289.3 174.1v5M287.5 174.8l3.6 3.6M287.5 178.4l3.6 -3.6" stroke="#3f56bc" stroke-width="0.7" stroke-opacity="1" fill="none"/><circle cx="289.3" cy="176.6" r="1" fill="#2c50c4"/><path d="M293.42 174.1v5M291.62 174.8l3.6 3.6M291.62 178.4l3.6 -3.6" stroke="#3f56bc" stroke-width="0.7" stroke-opacity="1" fill="none"/><circle cx="293.42" cy="176.6" r="1" fill="#2c50c4"/><path d="M297.55 174.1v5M295.75 174.8l3.6 3.6M295.75 178.4l3.6 -3.6" stroke="#3f56bc" stroke-width="0.7" stroke-opacity="1" fill="none"/><circle cx="297.55" cy="176.6" r="1" fill="#2c50c4"/><path d="M301.67 174.1v5M299.87 174.8l3.6 3.6M299.87 178.4l3.6 -3.6" stroke="#3f56bc" stroke-width="0.7" stroke-opacity="1" fill="none"/><circle cx="301.67" cy="176.6" r="1" fill="#2c50c4"/><path d="M305.79 174.1v5M303.99 174.8l3.6 3.6M303.99 178.4l3.6 -3.6" stroke="#3f56bc" stroke-width="0.7" stroke-opacity="1" fill="none"/><circle cx="305.79" cy="176.6" r="1" fill="#2c50c4"/><path d="M309.91 174.1v5M308.11 174.8l3.6 3.6M308.11 178.4l3.6 -3.6" stroke="#3f56bc" stroke-width="0.7" stroke-opacity="1" fill="none"/><circle cx="309.91" cy="176.6" r="1" fill="#2c50c4"/><path d="M314.03 174.1v5M312.23 174.8l3.6 3.6M312.23 178.4l3.6 -3.6" stroke="#3f56bc" stroke-width="0.7" stroke-opacity="1" fill="none"/><circle cx="314.03" cy="176.6" r="1" fill="#2c50c4"/><path d="M318.15 174.1v5M316.35 174.8l3.6 3.6M316.35 178.4l3.6 -3.6" stroke="#3f56bc" stroke-width="0.7" stroke-opacity="1" fill="none"/><circle cx="318.15" cy="176.6" r="1" fill="#2c50c4"/><path d="M322.27 174.1v5M320.47 174.8l3.6 3.6M320.47 178.4l3.6 -3.6" stroke="#3f56bc" stroke-width="0.7" stroke-opacity="1" fill="none"/><circle cx="322.27" cy="176.6" r="1" fill="#2c50c4"/><path d="M326.39 174.1v5M324.59 174.8l3.6 3.6M324.59 178.4l3.6 -3.6" stroke="#3f56bc" stroke-width="0.7" stroke-opacity="1" fill="none"/><circle cx="326.39" cy="176.6" r="1" fill="#2c50c4"/><path d="M330.52 174.1v5M328.72 174.8l3.6 3.6M328.72 178.4l3.6 -3.6" stroke="#3f56bc" stroke-width="0.7" stroke-opacity="1" fill="none"/><circle cx="330.52" cy="176.6" r="1" fill="#2c50c4"/><path d="M334.64 174.1v5M332.84 174.8l3.6 3.6M332.84 178.4l3.6 -3.6" stroke="#3f56bc" stroke-width="0.7" stroke-opacity="1" fill="none"/><circle cx="334.64" cy="176.6" r="1" fill="#2c50c4"/><path d="M338.76 174.1v5M336.96 174.8l3.6 3.6M336.96 178.4l3.6 -3.6" stroke="#3f56bc" stroke-width="0.7" stroke-opacity="1" fill="none"/><circle cx="338.76" cy="176.6" r="1" fill="#2c50c4"/><path d="M342.88 174.1v5M341.08 174.8l3.6 3.6M341.08 178.4l3.6 -3.6" stroke="#3f56bc" stroke-width="0.7" stroke-opacity="1" fill="none"/><circle cx="342.88" cy="176.6" r="1" fill="#2c50c4"/><path d="M347 174.1v5M345.2 174.8l3.6 3.6M345.2 178.4l3.6 -3.6" stroke="#3f56bc" stroke-width="0.7" stroke-opacity="1" fill="none"/><circle cx="347" cy="176.6" r="1" fill="#2c50c4"/><rect x="289.7" y="12.8" width="49.4" height="40.1" fill="#fff" stroke="#9a9a9a" stroke-width="1"/><path d="M292.5 20.5h19.6" stroke="#66c456" stroke-width="0.75"/><circle cx="302.3" cy="20.5" r="2.3" fill="none" stroke="#66c456" stroke-width="0.8"/><text x="315.9" y="24.1" font-size="10.3">ACH</text><path d="M292.5 32.9h19.6" stroke="#f0484a" stroke-width="0.75"/><rect x="300.3" y="30.9" width="4" height="4" fill="none" stroke="#f0484a" stroke-width="0.8"/><text x="315.9" y="36.5" font-size="10.3">ACD</text><path d="M292.5 45.4h19.6" stroke="#6f80cc" stroke-width="0.75"/><path d="M299.4 45.4h5.8M302.3 42.5v5.8M300.21 43.31l4.18 4.18M300.21 47.49l4.18 -4.18" stroke="#3550b8" stroke-width="0.72" stroke-opacity="1" fill="none"/><circle cx="302.3" cy="45.4" r="1.1" fill="#1f3aa8"/><text x="315.9" y="49" font-size="10.3">ACB</text></g>
<g><rect x="33" y="215" width="135" height="172" fill="none" stroke="#b4b4b4" stroke-width="1.2"/><path d="M55.3 387v-2M55.3 215v2M100.3 387v-2M100.3 215v2M145.5 387v-2M145.5 215v2M33 386.6h2M168 386.6h-2M33 349.9h2M168 349.9h-2M33 313.6h2M168 313.6h-2M33 276.9h2M168 276.9h-2M33 239.9h2M168 239.9h-2" stroke="#777" stroke-width="0.7" fill="none"/><text x="57.7" y="401.6" font-size="11.5" text-anchor="middle">0.1</text><text x="103.2" y="401.6" font-size="11.5" text-anchor="middle">0.2</text><text x="148.6" y="401.6" font-size="11.5" text-anchor="middle">0.3</text><text x="30.9" y="391" font-size="11.5" text-anchor="end">0</text><text x="32" y="354.3" font-size="11.5" text-anchor="end">0.2</text><text x="32" y="318" font-size="11.5" text-anchor="end">0.4</text><text x="32" y="281.3" font-size="11.5" text-anchor="end">0.6</text><text x="32" y="244.3" font-size="11.5" text-anchor="end">0.8</text><text x="102.8" y="417.1" font-size="12.8" text-anchor="middle">f</text><text x="0" y="0" font-size="13.5" text-anchor="middle" transform="translate(5.9 299.8) rotate(-90) scale(0.92 1)" dy="4.4">G</text><text x="2" y="222.8" font-size="13.5">c</text><g clip-path="url(#cec)"><path d="M123 285.5V289.5M121.7 285.5h2.6M121.7 289.5h2.6M132 287.1V331.1M130.7 287.1h2.6M130.7 331.1h2.6M141 362V400M139.7 362h2.6M139.7 400h2.6M150 376.7V393.7M148.7 376.7h2.6M148.7 393.7h2.6" stroke="#8fd882" stroke-width="0.7" fill="none"/><path d="M42 230V230.9M40.7 226.9h2.6M40.7 230.9h2.6M51 241V242.3M49.7 236.3h2.6M49.7 242.3h2.6M60 255V256.3M58.7 248.3h2.6M58.7 256.3h2.6M67.7 262.2h2.6M67.7 280.2h2.6M78 330V338.4M76.7 330h2.6M76.7 403.4h2.6" stroke="#f06a6a" stroke-width="0.7" fill="none"/><path d="M42 226V230M40.7 226h2.6M40.7 230h2.6M51 235V241M49.7 235h2.6M49.7 241h2.6M60 247V255M58.7 247h2.6M58.7 255h2.6M69 253.5V287.5M67.7 253.5h2.6M67.7 287.5h2.6M78 338.4V406M76.7 338.4h2.6M76.7 406h2.6" stroke="#8d9bd8" stroke-width="0.7" fill="none"/></g><polyline points="33,214 42,219 51,224.4 60,230 69,235.6 78,242 87,249 96,256.5 105,265.6 114,275.4 123,287.5 132,309.1 141,381 150,385.2 159,387 168,387" fill="none" stroke="#78cc68" stroke-width="0.75"/><circle cx="33" cy="214" r="2.3" fill="none" stroke="#66c456" stroke-width="0.8"/><circle cx="42" cy="219" r="2.3" fill="none" stroke="#66c456" stroke-width="0.8"/><circle cx="51" cy="224.4" r="2.3" fill="none" stroke="#66c456" stroke-width="0.8"/><circle cx="60" cy="230" r="2.3" fill="none" stroke="#66c456" stroke-width="0.8"/><circle cx="69" cy="235.6" r="2.3" fill="none" stroke="#66c456" stroke-width="0.8"/><circle cx="78" cy="242" r="2.3" fill="none" stroke="#66c456" stroke-width="0.8"/><circle cx="87" cy="249" r="2.3" fill="none" stroke="#66c456" stroke-width="0.8"/><circle cx="96" cy="256.5" r="2.3" fill="none" stroke="#66c456" stroke-width="0.8"/><circle cx="105" cy="265.6" r="2.3" fill="none" stroke="#66c456" stroke-width="0.8"/><circle cx="114" cy="275.4" r="2.3" fill="none" stroke="#66c456" stroke-width="0.8"/><circle cx="123" cy="287.5" r="2.3" fill="none" stroke="#66c456" stroke-width="0.8"/><circle cx="132" cy="309.1" r="2.3" fill="none" stroke="#66c456" stroke-width="0.8"/><circle cx="141" cy="381" r="2.3" fill="none" stroke="#66c456" stroke-width="0.8"/><circle cx="150" cy="385.2" r="2.3" fill="none" stroke="#66c456" stroke-width="0.8"/><circle cx="159" cy="387" r="2.3" fill="none" stroke="#66c456" stroke-width="0.8"/><circle cx="168" cy="387" r="2.3" fill="none" stroke="#66c456" stroke-width="0.8"/><polyline points="33,219.8 42,228.9 51,239.3 60,252.3 69,271.2 78,366.7 87,387 96,387 105,387 114,387 123,387 132,387 141,387 150,387 159,387 168,387" fill="none" stroke="#f0484a" stroke-width="0.75"/><rect x="30.8" y="217.6" width="4.4" height="4.4" fill="none" stroke="#f0484a" stroke-width="0.8"/><rect x="39.8" y="226.7" width="4.4" height="4.4" fill="none" stroke="#f0484a" stroke-width="0.8"/><rect x="48.8" y="237.1" width="4.4" height="4.4" fill="none" stroke="#f0484a" stroke-width="0.8"/><rect x="57.8" y="250.1" width="4.4" height="4.4" fill="none" stroke="#f0484a" stroke-width="0.8"/><rect x="66.8" y="269" width="4.4" height="4.4" fill="none" stroke="#f0484a" stroke-width="0.8"/><rect x="75.8" y="364.5" width="4.4" height="4.4" fill="none" stroke="#f0484a" stroke-width="0.8"/><rect x="84.7" y="384.7" width="4.6" height="4.6" fill="none" stroke="#f06070" stroke-width="0.8"/><rect x="93.7" y="384.7" width="4.6" height="4.6" fill="none" stroke="#f06070" stroke-width="0.8"/><rect x="102.7" y="384.7" width="4.6" height="4.6" fill="none" stroke="#f06070" stroke-width="0.8"/><rect x="111.7" y="384.7" width="4.6" height="4.6" fill="none" stroke="#f06070" stroke-width="0.8"/><rect x="120.7" y="384.7" width="4.6" height="4.6" fill="none" stroke="#f06070" stroke-width="0.8"/><rect x="129.7" y="384.7" width="4.6" height="4.6" fill="none" stroke="#f06070" stroke-width="0.8"/><rect x="138.7" y="384.7" width="4.6" height="4.6" fill="none" stroke="#f06070" stroke-width="0.8"/><rect x="147.7" y="384.7" width="4.6" height="4.6" fill="none" stroke="#f06070" stroke-width="0.8"/><rect x="156.7" y="384.7" width="4.6" height="4.6" fill="none" stroke="#f06070" stroke-width="0.8"/><rect x="165.7" y="384.7" width="4.6" height="4.6" fill="none" stroke="#f06070" stroke-width="0.8"/><polyline points="33,219 42,228 51,238 60,251 69,270.5 78,372.2 87,387 96,387 105,387 114,387 123,387 132,387 141,387 150,387 159,387 168,387" fill="none" stroke="#6f80cc" stroke-width="0.75"/><path d="M30.1 219h5.8M33 216.1v5.8M30.91 216.91l4.18 4.18M30.91 221.09l4.18 -4.18" stroke="#3550b8" stroke-width="0.72" stroke-opacity="1" fill="none"/><circle cx="33" cy="219" r="1.1" fill="#1f3aa8"/><path d="M39.1 228h5.8M42 225.1v5.8M39.91 225.91l4.18 4.18M39.91 230.09l4.18 -4.18" stroke="#3550b8" stroke-width="0.72" stroke-opacity="1" fill="none"/><circle cx="42" cy="228" r="1.1" fill="#1f3aa8"/><path d="M48.1 238h5.8M51 235.1v5.8M48.91 235.91l4.18 4.18M48.91 240.09l4.18 -4.18" stroke="#3550b8" stroke-width="0.72" stroke-opacity="1" fill="none"/><circle cx="51" cy="238" r="1.1" fill="#1f3aa8"/><path d="M57.1 251h5.8M60 248.1v5.8M57.91 248.91l4.18 4.18M57.91 253.09l4.18 -4.18" stroke="#3550b8" stroke-width="0.72" stroke-opacity="1" fill="none"/><circle cx="60" cy="251" r="1.1" fill="#1f3aa8"/><path d="M66.1 270.5h5.8M69 267.6v5.8M66.91 268.41l4.18 4.18M66.91 272.59l4.18 -4.18" stroke="#3550b8" stroke-width="0.72" stroke-opacity="1" fill="none"/><circle cx="69" cy="270.5" r="1.1" fill="#1f3aa8"/><path d="M75.1 372.2h5.8M78 369.3v5.8M75.91 370.11l4.18 4.18M75.91 374.29l4.18 -4.18" stroke="#3550b8" stroke-width="0.72" stroke-opacity="1" fill="none"/><circle cx="78" cy="372.2" r="1.1" fill="#1f3aa8"/><path d="M87 384.5v5M85.2 385.2l3.6 3.6M85.2 388.8l3.6 -3.6" stroke="#3f56bc" stroke-width="0.7" stroke-opacity="1" fill="none"/><circle cx="87" cy="387" r="1" fill="#2c50c4"/><path d="M96 384.5v5M94.2 385.2l3.6 3.6M94.2 388.8l3.6 -3.6" stroke="#3f56bc" stroke-width="0.7" stroke-opacity="1" fill="none"/><circle cx="96" cy="387" r="1" fill="#2c50c4"/><path d="M105 384.5v5M103.2 385.2l3.6 3.6M103.2 388.8l3.6 -3.6" stroke="#3f56bc" stroke-width="0.7" stroke-opacity="1" fill="none"/><circle cx="105" cy="387" r="1" fill="#2c50c4"/><path d="M114 384.5v5M112.2 385.2l3.6 3.6M112.2 388.8l3.6 -3.6" stroke="#3f56bc" stroke-width="0.7" stroke-opacity="1" fill="none"/><circle cx="114" cy="387" r="1" fill="#2c50c4"/><path d="M123 384.5v5M121.2 385.2l3.6 3.6M121.2 388.8l3.6 -3.6" stroke="#3f56bc" stroke-width="0.7" stroke-opacity="1" fill="none"/><circle cx="123" cy="387" r="1" fill="#2c50c4"/><path d="M132 384.5v5M130.2 385.2l3.6 3.6M130.2 388.8l3.6 -3.6" stroke="#3f56bc" stroke-width="0.7" stroke-opacity="1" fill="none"/><circle cx="132" cy="387" r="1" fill="#2c50c4"/><path d="M141 384.5v5M139.2 385.2l3.6 3.6M139.2 388.8l3.6 -3.6" stroke="#3f56bc" stroke-width="0.7" stroke-opacity="1" fill="none"/><circle cx="141" cy="387" r="1" fill="#2c50c4"/><path d="M150 384.5v5M148.2 385.2l3.6 3.6M148.2 388.8l3.6 -3.6" stroke="#3f56bc" stroke-width="0.7" stroke-opacity="1" fill="none"/><circle cx="150" cy="387" r="1" fill="#2c50c4"/><path d="M159 384.5v5M157.2 385.2l3.6 3.6M157.2 388.8l3.6 -3.6" stroke="#3f56bc" stroke-width="0.7" stroke-opacity="1" fill="none"/><circle cx="159" cy="387" r="1" fill="#2c50c4"/><path d="M168 384.5v5M166.2 385.2l3.6 3.6M166.2 388.8l3.6 -3.6" stroke="#3f56bc" stroke-width="0.7" stroke-opacity="1" fill="none"/><circle cx="168" cy="387" r="1" fill="#2c50c4"/><rect x="111.5" y="223.4" width="48.8" height="40.3" fill="#fff" stroke="#9a9a9a" stroke-width="1"/><path d="M114.3 231.1h19.6" stroke="#66c456" stroke-width="0.75"/><circle cx="124.1" cy="231.1" r="2.3" fill="none" stroke="#66c456" stroke-width="0.8"/><text x="137.7" y="234.7" font-size="10.3">ACH</text><path d="M114.3 243.5h19.6" stroke="#f0484a" stroke-width="0.75"/><rect x="122.1" y="241.5" width="4" height="4" fill="none" stroke="#f0484a" stroke-width="0.8"/><text x="137.7" y="247.1" font-size="10.3">ACD</text><path d="M114.3 256h19.6" stroke="#6f80cc" stroke-width="0.75"/><path d="M121.2 256h5.8M124.1 253.1v5.8M122.01 253.91l4.18 4.18M122.01 258.09l4.18 -4.18" stroke="#3550b8" stroke-width="0.72" stroke-opacity="1" fill="none"/><circle cx="124.1" cy="256" r="1.1" fill="#1f3aa8"/><text x="137.7" y="259.6" font-size="10.3">ACB</text></g>
<g><rect x="211" y="218" width="136" height="172" fill="none" stroke="#b4b4b4" stroke-width="1.2"/><path d="M241 390v-2M241 218v2M282.2 390v-2M282.2 218v2M323.3 390v-2M323.3 218v2M211 234.7h2M347 234.7h-2M211 257.8h2M347 257.8h-2M211 280.9h2M347 280.9h-2M211 304h2M347 304h-2M211 327.1h2M347 327.1h-2M211 350.2h2M347 350.2h-2M211 373.3h2M347 373.3h-2" stroke="#777" stroke-width="0.7" fill="none"/><text x="244.3" y="404.6" font-size="11.5" text-anchor="middle">0.2</text><text x="285.7" y="404.6" font-size="11.5" text-anchor="middle">0.4</text><text x="326.6" y="404.6" font-size="11.5" text-anchor="middle">0.6</text><text x="210" y="239.1" font-size="11.5" text-anchor="end">0.9</text><text x="210" y="262.2" font-size="11.5" text-anchor="end">0.8</text><text x="210" y="285.3" font-size="11.5" text-anchor="end">0.7</text><text x="210" y="308.4" font-size="11.5" text-anchor="end">0.6</text><text x="210" y="331.5" font-size="11.5" text-anchor="end">0.5</text><text x="210" y="354.6" font-size="11.5" text-anchor="end">0.4</text><text x="210" y="377.7" font-size="11.5" text-anchor="end">0.3</text><text x="281.3" y="420.1" font-size="12.8" text-anchor="middle">f</text><text x="0" y="0" font-size="13.5" text-anchor="middle" transform="translate(183.7 302.3) rotate(-90) scale(0.92 1)" dy="4.4">G</text><text x="183.4" y="222.8" font-size="13.5">d</text><g clip-path="url(#ced)"><path d="M281.06 267.4V281.4M279.76 267.4h2.6M279.76 281.4h2.6M285.18 265.6V293.2M283.88 265.6h2.6M283.88 293.2h2.6M289.3 273.9V295.9M288 273.9h2.6M288 295.9h2.6M293.42 277.2V301.2M292.12 277.2h2.6M292.12 301.2h2.6M297.55 281.2V310.2M296.25 281.2h2.6M296.25 310.2h2.6M301.67 287.3V315.3M300.37 287.3h2.6M300.37 315.3h2.6M305.79 292.8V321.6M304.49 292.8h2.6M304.49 321.6h2.6M309.91 298.8V332.8M308.61 298.8h2.6M308.61 332.8h2.6M314.03 307.2V343.2M312.73 307.2h2.6M312.73 343.2h2.6M318.15 316.5V349.5M316.85 316.5h2.6M316.85 349.5h2.6M322.27 325.9V354.9M320.97 325.9h2.6M320.97 354.9h2.6M326.39 335.6V357.2M325.09 335.6h2.6M325.09 357.2h2.6M330.52 344V358M329.22 344h2.6M329.22 358h2.6M334.64 348V358M333.34 348h2.6M333.34 358h2.6M338.76 350V358M337.46 350h2.6M337.46 358h2.6M342.88 351.5V358.5M341.58 351.5h2.6M341.58 358.5h2.6M347 352V358M345.7 352h2.6M345.7 358h2.6" stroke="#8fd882" stroke-width="0.7" fill="none"/><path d="M215.12 224.6V228.6M213.82 224.6h2.6M213.82 228.6h2.6M219.24 230.2V234.2M217.94 230.2h2.6M217.94 234.2h2.6M223.36 235.6V241.6M222.06 235.6h2.6M222.06 241.6h2.6M227.48 240.5V250.5M226.18 240.5h2.6M226.18 250.5h2.6M231.61 246.5V261.5M230.31 245.5h2.6M230.31 261.5h2.6M235.73 257V282.3M234.43 250.3h2.6M234.43 282.3h2.6M239.85 274.2V320M238.55 248h2.6M238.55 320h2.6M243.97 281.4V345M242.67 267.6h2.6M242.67 345h2.6M248.09 295.7V373M246.79 286.4h2.6M246.79 373h2.6M252.21 324.2V404.2M250.91 324.2h2.6M250.91 404.2h2.6M256.33 362.5V412.5M255.03 362.5h2.6M255.03 412.5h2.6M260.45 366.5V412.5M259.15 366.5h2.6M259.15 412.5h2.6M263.28 366.5h2.6M267.4 366.5h2.6M271.52 366.5h2.6M275.64 366.5h2.6M279.76 366.5h2.6M283.88 366.5h2.6M288 366.5h2.6M292.12 366.5h2.6M296.25 366.5h2.6M300.37 366.5h2.6M304.49 366.5h2.6M308.61 366.5h2.6M312.73 366.5h2.6M316.85 366.5h2.6M320.97 366.5h2.6M325.09 366.5h2.6M329.22 366.5h2.6M333.34 366.5h2.6M337.46 366.5h2.6M341.58 366.5h2.6M345.7 366.5h2.6" stroke="#f06a6a" stroke-width="0.7" fill="none"/><path d="M219.24 225.4V229.4M217.94 225.4h2.6M217.94 229.4h2.6M223.36 230.2V234.2M222.06 230.2h2.6M222.06 234.2h2.6M227.48 234.4V240.4M226.18 234.4h2.6M226.18 240.4h2.6M231.61 238.5V246.5M230.31 238.5h2.6M230.31 246.5h2.6M235.73 241V257M234.43 241h2.6M234.43 257h2.6M239.85 242.2V274.2M238.55 242.2h2.6M238.55 274.2h2.6M243.97 250.8V281.4M242.67 250.8h2.6M242.67 281.4h2.6M248.09 257.1V295.7M246.79 257.1h2.6M246.79 295.7h2.6M252.21 266.1V312.1M250.91 266.1h2.6M250.91 312.1h2.6M256.33 279.3V337.7M255.03 279.3h2.6M255.03 337.7h2.6M260.45 297.5V360.9M259.15 297.5h2.6M259.15 360.9h2.6M264.58 321.7V376.7M263.28 321.7h2.6M263.28 376.7h2.6M268.7 347.5V387.5M267.4 347.5h2.6M267.4 387.5h2.6M272.82 355.3V391.3M271.52 355.3h2.6M271.52 391.3h2.6M276.94 356.3V392.3M275.64 356.3h2.6M275.64 392.3h2.6M281.06 356.3V392.3M279.76 356.3h2.6M279.76 392.3h2.6M285.18 356.3V392.3M283.88 356.3h2.6M283.88 392.3h2.6M289.3 356.3V392.3M288 356.3h2.6M288 392.3h2.6M293.42 356.3V392.3M292.12 356.3h2.6M292.12 392.3h2.6M297.55 356.3V392.3M296.25 356.3h2.6M296.25 392.3h2.6M301.67 356.3V392.3M300.37 356.3h2.6M300.37 392.3h2.6M305.79 356.3V392.3M304.49 356.3h2.6M304.49 392.3h2.6M309.91 356.3V392.3M308.61 356.3h2.6M308.61 392.3h2.6M314.03 356.3V392.3M312.73 356.3h2.6M312.73 392.3h2.6M318.15 356.3V392.3M316.85 356.3h2.6M316.85 392.3h2.6M322.27 356.3V392.3M320.97 356.3h2.6M320.97 392.3h2.6M326.39 356.3V392.3M325.09 356.3h2.6M325.09 392.3h2.6M330.52 356.3V392.3M329.22 356.3h2.6M329.22 392.3h2.6M334.64 356.3V392.3M333.34 356.3h2.6M333.34 392.3h2.6M338.76 356.3V392.3M337.46 356.3h2.6M337.46 392.3h2.6M342.88 356.3V392.3M341.58 356.3h2.6M341.58 392.3h2.6M347 356.3V392.3M345.7 356.3h2.6M345.7 392.3h2.6" stroke="#8d9bd8" stroke-width="0.7" fill="none"/></g><polyline points="211,217.1 215.12,220.2 219.24,222.6 223.36,225.7 227.48,228.8 231.61,231.7 235.73,235.1 239.85,237.7 243.97,241.1 248.09,243.7 252.21,247.1 256.33,250.6 260.45,254.3 264.58,257 268.7,260.8 272.82,265.1 276.94,269.3 281.06,274.4 285.18,279.4 289.3,284.9 293.42,289.2 297.55,295.7 301.67,301.3 305.79,307.2 309.91,315.8 314.03,325.2 318.15,333 322.27,340.4 326.39,346.4 330.52,351 334.64,353 338.76,354 342.88,355 347,355" fill="none" stroke="#78cc68" stroke-width="0.75"/><circle cx="211" cy="217.1" r="2.3" fill="none" stroke="#66c456" stroke-width="0.8"/><circle cx="215.12" cy="220.2" r="2.3" fill="none" stroke="#66c456" stroke-width="0.8"/><circle cx="219.24" cy="222.6" r="2.3" fill="none" stroke="#66c456" stroke-width="0.8"/><circle cx="223.36" cy="225.7" r="2.3" fill="none" stroke="#66c456" stroke-width="0.8"/><circle cx="227.48" cy="228.8" r="2.3" fill="none" stroke="#66c456" stroke-width="0.8"/><circle cx="231.61" cy="231.7" r="2.3" fill="none" stroke="#66c456" stroke-width="0.8"/><circle cx="235.73" cy="235.1" r="2.3" fill="none" stroke="#66c456" stroke-width="0.8"/><circle cx="239.85" cy="237.7" r="2.3" fill="none" stroke="#66c456" stroke-width="0.8"/><circle cx="243.97" cy="241.1" r="2.3" fill="none" stroke="#66c456" stroke-width="0.8"/><circle cx="248.09" cy="243.7" r="2.3" fill="none" stroke="#66c456" stroke-width="0.8"/><circle cx="252.21" cy="247.1" r="2.3" fill="none" stroke="#66c456" stroke-width="0.8"/><circle cx="256.33" cy="250.6" r="2.3" fill="none" stroke="#66c456" stroke-width="0.8"/><circle cx="260.45" cy="254.3" r="2.3" fill="none" stroke="#66c456" stroke-width="0.8"/><circle cx="264.58" cy="257" r="2.3" fill="none" stroke="#66c456" stroke-width="0.8"/><circle cx="268.7" cy="260.8" r="2.3" fill="none" stroke="#66c456" stroke-width="0.8"/><circle cx="272.82" cy="265.1" r="2.3" fill="none" stroke="#66c456" stroke-width="0.8"/><circle cx="276.94" cy="269.3" r="2.3" fill="none" stroke="#66c456" stroke-width="0.8"/><circle cx="281.06" cy="274.4" r="2.3" fill="none" stroke="#66c456" stroke-width="0.8"/><circle cx="285.18" cy="279.4" r="2.3" fill="none" stroke="#66c456" stroke-width="0.8"/><circle cx="289.3" cy="284.9" r="2.3" fill="none" stroke="#66c456" stroke-width="0.8"/><circle cx="293.42" cy="289.2" r="2.3" fill="none" stroke="#66c456" stroke-width="0.8"/><circle cx="297.55" cy="295.7" r="2.3" fill="none" stroke="#66c456" stroke-width="0.8"/><circle cx="301.67" cy="301.3" r="2.3" fill="none" stroke="#66c456" stroke-width="0.8"/><circle cx="305.79" cy="307.2" r="2.3" fill="none" stroke="#66c456" stroke-width="0.8"/><circle cx="309.91" cy="315.8" r="2.3" fill="none" stroke="#66c456" stroke-width="0.8"/><circle cx="314.03" cy="325.2" r="2.3" fill="none" stroke="#66c456" stroke-width="0.8"/><circle cx="318.15" cy="333" r="2.3" fill="none" stroke="#66c456" stroke-width="0.8"/><circle cx="322.27" cy="340.4" r="2.3" fill="none" stroke="#66c456" stroke-width="0.8"/><circle cx="326.39" cy="346.4" r="2.3" fill="none" stroke="#66c456" stroke-width="0.8"/><circle cx="330.52" cy="351" r="2.3" fill="none" stroke="#66c456" stroke-width="0.8"/><circle cx="334.64" cy="353" r="2.3" fill="none" stroke="#66c456" stroke-width="0.8"/><circle cx="338.76" cy="354" r="2.3" fill="none" stroke="#66c456" stroke-width="0.8"/><circle cx="342.88" cy="355" r="2.3" fill="none" stroke="#66c456" stroke-width="0.8"/><circle cx="347" cy="355" r="2.3" fill="none" stroke="#66c456" stroke-width="0.8"/><polyline points="211,220.2 215.12,226.6 219.24,232.2 223.36,238.6 227.48,245.5 231.61,253.5 235.73,266.3 239.85,284 243.97,306.3 248.09,329.7 252.21,364.2 256.33,387.5 260.45,389.5 264.58,389.5 268.7,389.5 272.82,389.5 276.94,389.5 281.06,389.5 285.18,389.5 289.3,389.5 293.42,389.5 297.55,389.5 301.67,389.5 305.79,389.5 309.91,389.5 314.03,389.5 318.15,389.5 322.27,389.5 326.39,389.5 330.52,389.5 334.64,389.5 338.76,389.5 342.88,389.5 347,389.5" fill="none" stroke="#f0484a" stroke-width="0.75"/><rect x="208.8" y="218" width="4.4" height="4.4" fill="none" stroke="#f0484a" stroke-width="0.8"/><rect x="212.92" y="224.4" width="4.4" height="4.4" fill="none" stroke="#f0484a" stroke-width="0.8"/><rect x="217.04" y="230" width="4.4" height="4.4" fill="none" stroke="#f0484a" stroke-width="0.8"/><rect x="221.16" y="236.4" width="4.4" height="4.4" fill="none" stroke="#f0484a" stroke-width="0.8"/><rect x="225.28" y="243.3" width="4.4" height="4.4" fill="none" stroke="#f0484a" stroke-width="0.8"/><rect x="229.41" y="251.3" width="4.4" height="4.4" fill="none" stroke="#f0484a" stroke-width="0.8"/><rect x="233.53" y="264.1" width="4.4" height="4.4" fill="none" stroke="#f0484a" stroke-width="0.8"/><rect x="237.65" y="281.8" width="4.4" height="4.4" fill="none" stroke="#f0484a" stroke-width="0.8"/><rect x="241.77" y="304.1" width="4.4" height="4.4" fill="none" stroke="#f0484a" stroke-width="0.8"/><rect x="245.89" y="327.5" width="4.4" height="4.4" fill="none" stroke="#f0484a" stroke-width="0.8"/><rect x="250.01" y="362" width="4.4" height="4.4" fill="none" stroke="#f0484a" stroke-width="0.8"/><rect x="254.13" y="385.3" width="4.4" height="4.4" fill="none" stroke="#f0484a" stroke-width="0.8"/><rect x="258.15" y="387.2" width="4.6" height="4.6" fill="none" stroke="#f06070" stroke-width="0.8"/><rect x="262.28" y="387.2" width="4.6" height="4.6" fill="none" stroke="#f06070" stroke-width="0.8"/><rect x="266.4" y="387.2" width="4.6" height="4.6" fill="none" stroke="#f06070" stroke-width="0.8"/><rect x="270.52" y="387.2" width="4.6" height="4.6" fill="none" stroke="#f06070" stroke-width="0.8"/><rect x="274.64" y="387.2" width="4.6" height="4.6" fill="none" stroke="#f06070" stroke-width="0.8"/><rect x="278.76" y="387.2" width="4.6" height="4.6" fill="none" stroke="#f06070" stroke-width="0.8"/><rect x="282.88" y="387.2" width="4.6" height="4.6" fill="none" stroke="#f06070" stroke-width="0.8"/><rect x="287" y="387.2" width="4.6" height="4.6" fill="none" stroke="#f06070" stroke-width="0.8"/><rect x="291.12" y="387.2" width="4.6" height="4.6" fill="none" stroke="#f06070" stroke-width="0.8"/><rect x="295.25" y="387.2" width="4.6" height="4.6" fill="none" stroke="#f06070" stroke-width="0.8"/><rect x="299.37" y="387.2" width="4.6" height="4.6" fill="none" stroke="#f06070" stroke-width="0.8"/><rect x="303.49" y="387.2" width="4.6" height="4.6" fill="none" stroke="#f06070" stroke-width="0.8"/><rect x="307.61" y="387.2" width="4.6" height="4.6" fill="none" stroke="#f06070" stroke-width="0.8"/><rect x="311.73" y="387.2" width="4.6" height="4.6" fill="none" stroke="#f06070" stroke-width="0.8"/><rect x="315.85" y="387.2" width="4.6" height="4.6" fill="none" stroke="#f06070" stroke-width="0.8"/><rect x="319.97" y="387.2" width="4.6" height="4.6" fill="none" stroke="#f06070" stroke-width="0.8"/><rect x="324.09" y="387.2" width="4.6" height="4.6" fill="none" stroke="#f06070" stroke-width="0.8"/><rect x="328.22" y="387.2" width="4.6" height="4.6" fill="none" stroke="#f06070" stroke-width="0.8"/><rect x="332.34" y="387.2" width="4.6" height="4.6" fill="none" stroke="#f06070" stroke-width="0.8"/><rect x="336.46" y="387.2" width="4.6" height="4.6" fill="none" stroke="#f06070" stroke-width="0.8"/><rect x="340.58" y="387.2" width="4.6" height="4.6" fill="none" stroke="#f06070" stroke-width="0.8"/><rect x="344.7" y="387.2" width="4.6" height="4.6" fill="none" stroke="#f06070" stroke-width="0.8"/><polyline points="211,218.9 215.12,223.1 219.24,227.4 223.36,232.2 227.48,237.4 231.61,242.5 235.73,249 239.85,258.2 243.97,266.1 248.09,276.4 252.21,289.1 256.33,308.5 260.45,329.2 264.58,349.2 268.7,367.5 272.82,373.3 276.94,374.3 281.06,374.3 285.18,374.3 289.3,374.3 293.42,374.3 297.55,374.3 301.67,374.3 305.79,374.3 309.91,374.3 314.03,374.3 318.15,374.3 322.27,374.3 326.39,374.3 330.52,374.3 334.64,374.3 338.76,374.3 342.88,374.3 347,374.3" fill="none" stroke="#6f80cc" stroke-width="0.75"/><path d="M208.1 218.9h5.8M211 216v5.8M208.91 216.81l4.18 4.18M208.91 220.99l4.18 -4.18" stroke="#3550b8" stroke-width="0.72" stroke-opacity="1" fill="none"/><circle cx="211" cy="218.9" r="1.1" fill="#1f3aa8"/><path d="M212.22 223.1h5.8M215.12 220.2v5.8M213.03 221.01l4.18 4.18M213.03 225.19l4.18 -4.18" stroke="#3550b8" stroke-width="0.72" stroke-opacity="1" fill="none"/><circle cx="215.12" cy="223.1" r="1.1" fill="#1f3aa8"/><path d="M216.34 227.4h5.8M219.24 224.5v5.8M217.15 225.31l4.18 4.18M217.15 229.49l4.18 -4.18" stroke="#3550b8" stroke-width="0.72" stroke-opacity="1" fill="none"/><circle cx="219.24" cy="227.4" r="1.1" fill="#1f3aa8"/><path d="M220.46 232.2h5.8M223.36 229.3v5.8M221.28 230.11l4.18 4.18M221.28 234.29l4.18 -4.18" stroke="#3550b8" stroke-width="0.72" stroke-opacity="1" fill="none"/><circle cx="223.36" cy="232.2" r="1.1" fill="#1f3aa8"/><path d="M224.58 237.4h5.8M227.48 234.5v5.8M225.4 235.31l4.18 4.18M225.4 239.49l4.18 -4.18" stroke="#3550b8" stroke-width="0.72" stroke-opacity="1" fill="none"/><circle cx="227.48" cy="237.4" r="1.1" fill="#1f3aa8"/><path d="M228.71 242.5h5.8M231.61 239.6v5.8M229.52 240.41l4.18 4.18M229.52 244.59l4.18 -4.18" stroke="#3550b8" stroke-width="0.72" stroke-opacity="1" fill="none"/><circle cx="231.61" cy="242.5" r="1.1" fill="#1f3aa8"/><path d="M232.83 249h5.8M235.73 246.1v5.8M233.64 246.91l4.18 4.18M233.64 251.09l4.18 -4.18" stroke="#3550b8" stroke-width="0.72" stroke-opacity="1" fill="none"/><circle cx="235.73" cy="249" r="1.1" fill="#1f3aa8"/><path d="M236.95 258.2h5.8M239.85 255.3v5.8M237.76 256.11l4.18 4.18M237.76 260.29l4.18 -4.18" stroke="#3550b8" stroke-width="0.72" stroke-opacity="1" fill="none"/><circle cx="239.85" cy="258.2" r="1.1" fill="#1f3aa8"/><path d="M241.07 266.1h5.8M243.97 263.2v5.8M241.88 264.01l4.18 4.18M241.88 268.19l4.18 -4.18" stroke="#3550b8" stroke-width="0.72" stroke-opacity="1" fill="none"/><circle cx="243.97" cy="266.1" r="1.1" fill="#1f3aa8"/><path d="M245.19 276.4h5.8M248.09 273.5v5.8M246 274.31l4.18 4.18M246 278.49l4.18 -4.18" stroke="#3550b8" stroke-width="0.72" stroke-opacity="1" fill="none"/><circle cx="248.09" cy="276.4" r="1.1" fill="#1f3aa8"/><path d="M249.31 289.1h5.8M252.21 286.2v5.8M250.12 287.01l4.18 4.18M250.12 291.19l4.18 -4.18" stroke="#3550b8" stroke-width="0.72" stroke-opacity="1" fill="none"/><circle cx="252.21" cy="289.1" r="1.1" fill="#1f3aa8"/><path d="M253.43 308.5h5.8M256.33 305.6v5.8M254.25 306.41l4.18 4.18M254.25 310.59l4.18 -4.18" stroke="#3550b8" stroke-width="0.72" stroke-opacity="1" fill="none"/><circle cx="256.33" cy="308.5" r="1.1" fill="#1f3aa8"/><path d="M257.55 329.2h5.8M260.45 326.3v5.8M258.37 327.11l4.18 4.18M258.37 331.29l4.18 -4.18" stroke="#3550b8" stroke-width="0.72" stroke-opacity="1" fill="none"/><circle cx="260.45" cy="329.2" r="1.1" fill="#1f3aa8"/><path d="M261.68 349.2h5.8M264.58 346.3v5.8M262.49 347.11l4.18 4.18M262.49 351.29l4.18 -4.18" stroke="#3550b8" stroke-width="0.72" stroke-opacity="1" fill="none"/><circle cx="264.58" cy="349.2" r="1.1" fill="#1f3aa8"/><path d="M265.8 367.5h5.8M268.7 364.6v5.8M266.61 365.41l4.18 4.18M266.61 369.59l4.18 -4.18" stroke="#3550b8" stroke-width="0.72" stroke-opacity="1" fill="none"/><circle cx="268.7" cy="367.5" r="1.1" fill="#1f3aa8"/><path d="M269.92 373.3h5.8M272.82 370.4v5.8M270.73 371.21l4.18 4.18M270.73 375.39l4.18 -4.18" stroke="#3550b8" stroke-width="0.72" stroke-opacity="1" fill="none"/><circle cx="272.82" cy="373.3" r="1.1" fill="#1f3aa8"/><path d="M276.94 371.8v5M275.14 372.5l3.6 3.6M275.14 376.1l3.6 -3.6" stroke="#3f56bc" stroke-width="0.7" stroke-opacity="1" fill="none"/><circle cx="276.94" cy="374.3" r="1" fill="#2c50c4"/><path d="M281.06 371.8v5M279.26 372.5l3.6 3.6M279.26 376.1l3.6 -3.6" stroke="#3f56bc" stroke-width="0.7" stroke-opacity="1" fill="none"/><circle cx="281.06" cy="374.3" r="1" fill="#2c50c4"/><path d="M285.18 371.8v5M283.38 372.5l3.6 3.6M283.38 376.1l3.6 -3.6" stroke="#3f56bc" stroke-width="0.7" stroke-opacity="1" fill="none"/><circle cx="285.18" cy="374.3" r="1" fill="#2c50c4"/><path d="M289.3 371.8v5M287.5 372.5l3.6 3.6M287.5 376.1l3.6 -3.6" stroke="#3f56bc" stroke-width="0.7" stroke-opacity="1" fill="none"/><circle cx="289.3" cy="374.3" r="1" fill="#2c50c4"/><path d="M293.42 371.8v5M291.62 372.5l3.6 3.6M291.62 376.1l3.6 -3.6" stroke="#3f56bc" stroke-width="0.7" stroke-opacity="1" fill="none"/><circle cx="293.42" cy="374.3" r="1" fill="#2c50c4"/><path d="M297.55 371.8v5M295.75 372.5l3.6 3.6M295.75 376.1l3.6 -3.6" stroke="#3f56bc" stroke-width="0.7" stroke-opacity="1" fill="none"/><circle cx="297.55" cy="374.3" r="1" fill="#2c50c4"/><path d="M301.67 371.8v5M299.87 372.5l3.6 3.6M299.87 376.1l3.6 -3.6" stroke="#3f56bc" stroke-width="0.7" stroke-opacity="1" fill="none"/><circle cx="301.67" cy="374.3" r="1" fill="#2c50c4"/><path d="M305.79 371.8v5M303.99 372.5l3.6 3.6M303.99 376.1l3.6 -3.6" stroke="#3f56bc" stroke-width="0.7" stroke-opacity="1" fill="none"/><circle cx="305.79" cy="374.3" r="1" fill="#2c50c4"/><path d="M309.91 371.8v5M308.11 372.5l3.6 3.6M308.11 376.1l3.6 -3.6" stroke="#3f56bc" stroke-width="0.7" stroke-opacity="1" fill="none"/><circle cx="309.91" cy="374.3" r="1" fill="#2c50c4"/><path d="M314.03 371.8v5M312.23 372.5l3.6 3.6M312.23 376.1l3.6 -3.6" stroke="#3f56bc" stroke-width="0.7" stroke-opacity="1" fill="none"/><circle cx="314.03" cy="374.3" r="1" fill="#2c50c4"/><path d="M318.15 371.8v5M316.35 372.5l3.6 3.6M316.35 376.1l3.6 -3.6" stroke="#3f56bc" stroke-width="0.7" stroke-opacity="1" fill="none"/><circle cx="318.15" cy="374.3" r="1" fill="#2c50c4"/><path d="M322.27 371.8v5M320.47 372.5l3.6 3.6M320.47 376.1l3.6 -3.6" stroke="#3f56bc" stroke-width="0.7" stroke-opacity="1" fill="none"/><circle cx="322.27" cy="374.3" r="1" fill="#2c50c4"/><path d="M326.39 371.8v5M324.59 372.5l3.6 3.6M324.59 376.1l3.6 -3.6" stroke="#3f56bc" stroke-width="0.7" stroke-opacity="1" fill="none"/><circle cx="326.39" cy="374.3" r="1" fill="#2c50c4"/><path d="M330.52 371.8v5M328.72 372.5l3.6 3.6M328.72 376.1l3.6 -3.6" stroke="#3f56bc" stroke-width="0.7" stroke-opacity="1" fill="none"/><circle cx="330.52" cy="374.3" r="1" fill="#2c50c4"/><path d="M334.64 371.8v5M332.84 372.5l3.6 3.6M332.84 376.1l3.6 -3.6" stroke="#3f56bc" stroke-width="0.7" stroke-opacity="1" fill="none"/><circle cx="334.64" cy="374.3" r="1" fill="#2c50c4"/><path d="M338.76 371.8v5M336.96 372.5l3.6 3.6M336.96 376.1l3.6 -3.6" stroke="#3f56bc" stroke-width="0.7" stroke-opacity="1" fill="none"/><circle cx="338.76" cy="374.3" r="1" fill="#2c50c4"/><path d="M342.88 371.8v5M341.08 372.5l3.6 3.6M341.08 376.1l3.6 -3.6" stroke="#3f56bc" stroke-width="0.7" stroke-opacity="1" fill="none"/><circle cx="342.88" cy="374.3" r="1" fill="#2c50c4"/><path d="M347 371.8v5M345.2 372.5l3.6 3.6M345.2 376.1l3.6 -3.6" stroke="#3f56bc" stroke-width="0.7" stroke-opacity="1" fill="none"/><circle cx="347" cy="374.3" r="1" fill="#2c50c4"/><rect x="288.9" y="226.4" width="49" height="39.5" fill="#fff" stroke="#9a9a9a" stroke-width="1"/><path d="M291.7 234.1h19.6" stroke="#66c456" stroke-width="0.75"/><circle cx="301.5" cy="234.1" r="2.3" fill="none" stroke="#66c456" stroke-width="0.8"/><text x="315.1" y="237.7" font-size="10.3">DCH</text><path d="M291.7 246.5h19.6" stroke="#f0484a" stroke-width="0.75"/><rect x="299.5" y="244.5" width="4" height="4" fill="none" stroke="#f0484a" stroke-width="0.8"/><text x="315.1" y="250.1" font-size="10.3">DCD</text><path d="M291.7 259h19.6" stroke="#6f80cc" stroke-width="0.75"/><path d="M298.6 259h5.8M301.5 256.1v5.8M299.41 256.91l4.18 4.18M299.41 261.09l4.18 -4.18" stroke="#3550b8" stroke-width="0.72" stroke-opacity="1" fill="none"/><circle cx="301.5" cy="259" r="1.1" fill="#1f3aa8"/><text x="315.1" y="262.6" font-size="10.3">DCB</text></g>
<g><rect x="33" y="425" width="135" height="172" fill="none" stroke="#b4b4b4" stroke-width="1.2"/><path d="M63 597v-2M63 425v2M104.2 597v-2M104.2 425v2M145.3 597v-2M145.3 425v2M33 597.2h2M168 597.2h-2M33 562h2M168 562h-2M33 526.9h2M168 526.9h-2M33 491.2h2M168 491.2h-2M33 455.3h2M168 455.3h-2" stroke="#777" stroke-width="0.7" fill="none"/><text x="65.9" y="611.6" font-size="11.5" text-anchor="middle">0.2</text><text x="107.2" y="611.6" font-size="11.5" text-anchor="middle">0.4</text><text x="148.5" y="611.6" font-size="11.5" text-anchor="middle">0.6</text><text x="30.9" y="601.6" font-size="11.5" text-anchor="end">0</text><text x="32" y="566.4" font-size="11.5" text-anchor="end">0.2</text><text x="32" y="531.3" font-size="11.5" text-anchor="end">0.4</text><text x="32" y="495.6" font-size="11.5" text-anchor="end">0.6</text><text x="32" y="459.7" font-size="11.5" text-anchor="end">0.8</text><text x="102.8" y="627.1" font-size="12.8" text-anchor="middle">f</text><text x="0" y="0" font-size="13.5" text-anchor="middle" transform="translate(5.9 509.1) rotate(-90) scale(0.92 1)" dy="4.4">G</text><text x="2" y="431.3" font-size="13.5">e</text><g clip-path="url(#cee)"><path d="M98.45 467.7V475.7M97.15 467.7h2.6M97.15 475.7h2.6M102.55 464.7V489.1M101.25 464.7h2.6M101.25 489.1h2.6M106.64 464.7V503.7M105.34 464.7h2.6M105.34 503.7h2.6M110.73 472.1V509.1M109.43 472.1h2.6M109.43 509.1h2.6M114.82 478.7V512.7M113.52 478.7h2.6M113.52 512.7h2.6M118.91 483V526.6M117.61 483h2.6M117.61 526.6h2.6M123 490.8V531.4M121.7 490.8h2.6M121.7 531.4h2.6M127.09 498.4V539.4M125.79 498.4h2.6M125.79 539.4h2.6M131.18 505.5V557.5M129.88 505.5h2.6M129.88 557.5h2.6M135.27 517.6V576.2M133.97 517.6h2.6M133.97 576.2h2.6M139.36 534.6V589.4M138.06 534.6h2.6M138.06 589.4h2.6M143.45 559.6V602.6M142.15 559.6h2.6M142.15 602.6h2.6M147.55 576.2V600.2M146.25 576.2h2.6M146.25 600.2h2.6M151.64 586.6V594.6M150.34 586.6h2.6M150.34 594.6h2.6M155.73 588.4V594.4M154.43 588.4h2.6M154.43 594.4h2.6M159.82 588.4V594.4M158.52 588.4h2.6M158.52 594.4h2.6M163.91 588.4V594.4M162.61 588.4h2.6M162.61 594.4h2.6M168 588.4V594.4M166.7 588.4h2.6M166.7 594.4h2.6" stroke="#8fd882" stroke-width="0.7" fill="none"/><path d="M41.18 436.3V439.2M39.88 435.2h2.6M39.88 439.2h2.6M45.27 441.4V445.4M43.97 441.4h2.6M43.97 445.4h2.6M49.36 447.1V452.7M48.06 446.7h2.6M48.06 452.7h2.6M53.45 453.8V461.8M52.15 453.8h2.6M52.15 461.8h2.6M57.55 463.6V479.6M56.25 463.6h2.6M56.25 479.6h2.6M61.64 484.1V516.3M60.34 462.9h2.6M60.34 516.3h2.6M65.73 502.3V567.1M64.43 502.3h2.6M64.43 567.1h2.6" stroke="#f06a6a" stroke-width="0.7" fill="none"/><path d="M41.18 432.3V436.3M39.88 432.3h2.6M39.88 436.3h2.6M45.27 436.9V440.9M43.97 436.9h2.6M43.97 440.9h2.6M49.36 441.1V447.1M48.06 441.1h2.6M48.06 447.1h2.6M53.45 445.5V453.5M52.15 445.5h2.6M52.15 453.5h2.6M57.55 450.4V460.4M56.25 450.4h2.6M56.25 460.4h2.6M61.64 444.1V484.1M60.34 444.1h2.6M60.34 484.1h2.6M65.73 453.6V491.6M64.43 453.6h2.6M64.43 491.6h2.6M69.82 460.8V506.8M68.52 460.8h2.6M68.52 506.8h2.6M73.91 469.8V533.4M72.61 469.8h2.6M72.61 533.4h2.6M78 498.8V577.2M76.7 498.8h2.6M76.7 577.2h2.6" stroke="#8d9bd8" stroke-width="0.7" fill="none"/></g><polyline points="33,423.5 37.09,426.2 41.18,428.6 45.27,430.9 49.36,433.8 53.45,436 57.55,438.9 61.64,442 65.73,445.1 69.82,448.5 73.91,451.4 78,454.3 82.09,456.8 86.18,459.8 90.27,463.7 94.36,467.4 98.45,471.7 102.55,476.9 106.64,484.2 110.73,490.6 114.82,495.7 118.91,504.8 123,511.1 127.09,518.9 131.18,531.5 135.27,546.9 139.36,562 143.45,581.1 147.55,588.2 151.64,590.6 155.73,591.4 159.82,591.4 163.91,591.4 168,591.4" fill="none" stroke="#78cc68" stroke-width="0.75"/><circle cx="33" cy="423.5" r="2.3" fill="none" stroke="#66c456" stroke-width="0.8"/><circle cx="37.09" cy="426.2" r="2.3" fill="none" stroke="#66c456" stroke-width="0.8"/><circle cx="41.18" cy="428.6" r="2.3" fill="none" stroke="#66c456" stroke-width="0.8"/><circle cx="45.27" cy="430.9" r="2.3" fill="none" stroke="#66c456" stroke-width="0.8"/><circle cx="49.36" cy="433.8" r="2.3" fill="none" stroke="#66c456" stroke-width="0.8"/><circle cx="53.45" cy="436" r="2.3" fill="none" stroke="#66c456" stroke-width="0.8"/><circle cx="57.55" cy="438.9" r="2.3" fill="none" stroke="#66c456" stroke-width="0.8"/><circle cx="61.64" cy="442" r="2.3" fill="none" stroke="#66c456" stroke-width="0.8"/><circle cx="65.73" cy="445.1" r="2.3" fill="none" stroke="#66c456" stroke-width="0.8"/><circle cx="69.82" cy="448.5" r="2.3" fill="none" stroke="#66c456" stroke-width="0.8"/><circle cx="73.91" cy="451.4" r="2.3" fill="none" stroke="#66c456" stroke-width="0.8"/><circle cx="78" cy="454.3" r="2.3" fill="none" stroke="#66c456" stroke-width="0.8"/><circle cx="82.09" cy="456.8" r="2.3" fill="none" stroke="#66c456" stroke-width="0.8"/><circle cx="86.18" cy="459.8" r="2.3" fill="none" stroke="#66c456" stroke-width="0.8"/><circle cx="90.27" cy="463.7" r="2.3" fill="none" stroke="#66c456" stroke-width="0.8"/><circle cx="94.36" cy="467.4" r="2.3" fill="none" stroke="#66c456" stroke-width="0.8"/><circle cx="98.45" cy="471.7" r="2.3" fill="none" stroke="#66c456" stroke-width="0.8"/><circle cx="102.55" cy="476.9" r="2.3" fill="none" stroke="#66c456" stroke-width="0.8"/><circle cx="106.64" cy="484.2" r="2.3" fill="none" stroke="#66c456" stroke-width="0.8"/><circle cx="110.73" cy="490.6" r="2.3" fill="none" stroke="#66c456" stroke-width="0.8"/><circle cx="114.82" cy="495.7" r="2.3" fill="none" stroke="#66c456" stroke-width="0.8"/><circle cx="118.91" cy="504.8" r="2.3" fill="none" stroke="#66c456" stroke-width="0.8"/><circle cx="123" cy="511.1" r="2.3" fill="none" stroke="#66c456" stroke-width="0.8"/><circle cx="127.09" cy="518.9" r="2.3" fill="none" stroke="#66c456" stroke-width="0.8"/><circle cx="131.18" cy="531.5" r="2.3" fill="none" stroke="#66c456" stroke-width="0.8"/><circle cx="135.27" cy="546.9" r="2.3" fill="none" stroke="#66c456" stroke-width="0.8"/><circle cx="139.36" cy="562" r="2.3" fill="none" stroke="#66c456" stroke-width="0.8"/><circle cx="143.45" cy="581.1" r="2.3" fill="none" stroke="#66c456" stroke-width="0.8"/><circle cx="147.55" cy="588.2" r="2.3" fill="none" stroke="#66c456" stroke-width="0.8"/><circle cx="151.64" cy="590.6" r="2.3" fill="none" stroke="#66c456" stroke-width="0.8"/><circle cx="155.73" cy="591.4" r="2.3" fill="none" stroke="#66c456" stroke-width="0.8"/><circle cx="159.82" cy="591.4" r="2.3" fill="none" stroke="#66c456" stroke-width="0.8"/><circle cx="163.91" cy="591.4" r="2.3" fill="none" stroke="#66c456" stroke-width="0.8"/><circle cx="168" cy="591.4" r="2.3" fill="none" stroke="#66c456" stroke-width="0.8"/><polyline points="33,426.6 37.09,431.7 41.18,437.2 45.27,443.4 49.36,449.7 53.45,457.8 57.55,471.6 61.64,489.6 65.73,534.7 69.82,595.7 73.91,596.5 78,596.5 82.09,596.5 86.18,596.5 90.27,596.5 94.36,596.5 98.45,596.5 102.55,596.5 106.64,596.5 110.73,596.5 114.82,596.5 118.91,596.5 123,596.5 127.09,596.5 131.18,596.5 135.27,596.5 139.36,596.5 143.45,596.5 147.55,596.5 151.64,596.5 155.73,596.5 159.82,596.5 163.91,596.5 168,596.5" fill="none" stroke="#f0484a" stroke-width="0.75"/><rect x="30.8" y="424.4" width="4.4" height="4.4" fill="none" stroke="#f0484a" stroke-width="0.8"/><rect x="34.89" y="429.5" width="4.4" height="4.4" fill="none" stroke="#f0484a" stroke-width="0.8"/><rect x="38.98" y="435" width="4.4" height="4.4" fill="none" stroke="#f0484a" stroke-width="0.8"/><rect x="43.07" y="441.2" width="4.4" height="4.4" fill="none" stroke="#f0484a" stroke-width="0.8"/><rect x="47.16" y="447.5" width="4.4" height="4.4" fill="none" stroke="#f0484a" stroke-width="0.8"/><rect x="51.25" y="455.6" width="4.4" height="4.4" fill="none" stroke="#f0484a" stroke-width="0.8"/><rect x="55.35" y="469.4" width="4.4" height="4.4" fill="none" stroke="#f0484a" stroke-width="0.8"/><rect x="59.44" y="487.4" width="4.4" height="4.4" fill="none" stroke="#f0484a" stroke-width="0.8"/><rect x="63.53" y="532.5" width="4.4" height="4.4" fill="none" stroke="#f0484a" stroke-width="0.8"/><rect x="67.62" y="593.5" width="4.4" height="4.4" fill="none" stroke="#f0484a" stroke-width="0.8"/><rect x="71.61" y="594.2" width="4.6" height="4.6" fill="none" stroke="#f06070" stroke-width="0.8"/><rect x="75.7" y="594.2" width="4.6" height="4.6" fill="none" stroke="#f06070" stroke-width="0.8"/><rect x="79.79" y="594.2" width="4.6" height="4.6" fill="none" stroke="#f06070" stroke-width="0.8"/><rect x="83.88" y="594.2" width="4.6" height="4.6" fill="none" stroke="#f06070" stroke-width="0.8"/><rect x="87.97" y="594.2" width="4.6" height="4.6" fill="none" stroke="#f06070" stroke-width="0.8"/><rect x="92.06" y="594.2" width="4.6" height="4.6" fill="none" stroke="#f06070" stroke-width="0.8"/><rect x="96.15" y="594.2" width="4.6" height="4.6" fill="none" stroke="#f06070" stroke-width="0.8"/><rect x="100.25" y="594.2" width="4.6" height="4.6" fill="none" stroke="#f06070" stroke-width="0.8"/><rect x="104.34" y="594.2" width="4.6" height="4.6" fill="none" stroke="#f06070" stroke-width="0.8"/><rect x="108.43" y="594.2" width="4.6" height="4.6" fill="none" stroke="#f06070" stroke-width="0.8"/><rect x="112.52" y="594.2" width="4.6" height="4.6" fill="none" stroke="#f06070" stroke-width="0.8"/><rect x="116.61" y="594.2" width="4.6" height="4.6" fill="none" stroke="#f06070" stroke-width="0.8"/><rect x="120.7" y="594.2" width="4.6" height="4.6" fill="none" stroke="#f06070" stroke-width="0.8"/><rect x="124.79" y="594.2" width="4.6" height="4.6" fill="none" stroke="#f06070" stroke-width="0.8"/><rect x="128.88" y="594.2" width="4.6" height="4.6" fill="none" stroke="#f06070" stroke-width="0.8"/><rect x="132.97" y="594.2" width="4.6" height="4.6" fill="none" stroke="#f06070" stroke-width="0.8"/><rect x="137.06" y="594.2" width="4.6" height="4.6" fill="none" stroke="#f06070" stroke-width="0.8"/><rect x="141.15" y="594.2" width="4.6" height="4.6" fill="none" stroke="#f06070" stroke-width="0.8"/><rect x="145.25" y="594.2" width="4.6" height="4.6" fill="none" stroke="#f06070" stroke-width="0.8"/><rect x="149.34" y="594.2" width="4.6" height="4.6" fill="none" stroke="#f06070" stroke-width="0.8"/><rect x="153.43" y="594.2" width="4.6" height="4.6" fill="none" stroke="#f06070" stroke-width="0.8"/><rect x="157.52" y="594.2" width="4.6" height="4.6" fill="none" stroke="#f06070" stroke-width="0.8"/><rect x="161.61" y="594.2" width="4.6" height="4.6" fill="none" stroke="#f06070" stroke-width="0.8"/><rect x="165.7" y="594.2" width="4.6" height="4.6" fill="none" stroke="#f06070" stroke-width="0.8"/><polyline points="33,425.7 37.09,430 41.18,434.3 45.27,438.9 49.36,444.1 53.45,449.5 57.55,455.4 61.64,464.1 65.73,472.6 69.82,483.8 73.91,501.6 78,538 82.09,596.3 86.18,596.3 90.27,596.3 94.36,596.3 98.45,596.3 102.55,596.3 106.64,596.3 110.73,596.3 114.82,596.3 118.91,596.3 123,596.3 127.09,596.3 131.18,596.3 135.27,596.3 139.36,596.3 143.45,596.3 147.55,596.3 151.64,596.3 155.73,596.3 159.82,596.3 163.91,596.3 168,596.3" fill="none" stroke="#6f80cc" stroke-width="0.75"/><path d="M30.1 425.7h5.8M33 422.8v5.8M30.91 423.61l4.18 4.18M30.91 427.79l4.18 -4.18" stroke="#3550b8" stroke-width="0.72" stroke-opacity="1" fill="none"/><circle cx="33" cy="425.7" r="1.1" fill="#1f3aa8"/><path d="M34.19 430h5.8M37.09 427.1v5.8M35 427.91l4.18 4.18M35 432.09l4.18 -4.18" stroke="#3550b8" stroke-width="0.72" stroke-opacity="1" fill="none"/><circle cx="37.09" cy="430" r="1.1" fill="#1f3aa8"/><path d="M38.28 434.3h5.8M41.18 431.4v5.8M39.09 432.21l4.18 4.18M39.09 436.39l4.18 -4.18" stroke="#3550b8" stroke-width="0.72" stroke-opacity="1" fill="none"/><circle cx="41.18" cy="434.3" r="1.1" fill="#1f3aa8"/><path d="M42.37 438.9h5.8M45.27 436v5.8M43.18 436.81l4.18 4.18M43.18 440.99l4.18 -4.18" stroke="#3550b8" stroke-width="0.72" stroke-opacity="1" fill="none"/><circle cx="45.27" cy="438.9" r="1.1" fill="#1f3aa8"/><path d="M46.46 444.1h5.8M49.36 441.2v5.8M47.28 442.01l4.18 4.18M47.28 446.19l4.18 -4.18" stroke="#3550b8" stroke-width="0.72" stroke-opacity="1" fill="none"/><circle cx="49.36" cy="444.1" r="1.1" fill="#1f3aa8"/><path d="M50.55 449.5h5.8M53.45 446.6v5.8M51.37 447.41l4.18 4.18M51.37 451.59l4.18 -4.18" stroke="#3550b8" stroke-width="0.72" stroke-opacity="1" fill="none"/><circle cx="53.45" cy="449.5" r="1.1" fill="#1f3aa8"/><path d="M54.65 455.4h5.8M57.55 452.5v5.8M55.46 453.31l4.18 4.18M55.46 457.49l4.18 -4.18" stroke="#3550b8" stroke-width="0.72" stroke-opacity="1" fill="none"/><circle cx="57.55" cy="455.4" r="1.1" fill="#1f3aa8"/><path d="M58.74 464.1h5.8M61.64 461.2v5.8M59.55 462.01l4.18 4.18M59.55 466.19l4.18 -4.18" stroke="#3550b8" stroke-width="0.72" stroke-opacity="1" fill="none"/><circle cx="61.64" cy="464.1" r="1.1" fill="#1f3aa8"/><path d="M62.83 472.6h5.8M65.73 469.7v5.8M63.64 470.51l4.18 4.18M63.64 474.69l4.18 -4.18" stroke="#3550b8" stroke-width="0.72" stroke-opacity="1" fill="none"/><circle cx="65.73" cy="472.6" r="1.1" fill="#1f3aa8"/><path d="M66.92 483.8h5.8M69.82 480.9v5.8M67.73 481.71l4.18 4.18M67.73 485.89l4.18 -4.18" stroke="#3550b8" stroke-width="0.72" stroke-opacity="1" fill="none"/><circle cx="69.82" cy="483.8" r="1.1" fill="#1f3aa8"/><path d="M71.01 501.6h5.8M73.91 498.7v5.8M71.82 499.51l4.18 4.18M71.82 503.69l4.18 -4.18" stroke="#3550b8" stroke-width="0.72" stroke-opacity="1" fill="none"/><circle cx="73.91" cy="501.6" r="1.1" fill="#1f3aa8"/><path d="M75.1 538h5.8M78 535.1v5.8M75.91 535.91l4.18 4.18M75.91 540.09l4.18 -4.18" stroke="#3550b8" stroke-width="0.72" stroke-opacity="1" fill="none"/><circle cx="78" cy="538" r="1.1" fill="#1f3aa8"/><path d="M82.09 593.8v5M80.29 594.5l3.6 3.6M80.29 598.1l3.6 -3.6" stroke="#3f56bc" stroke-width="0.7" stroke-opacity="1" fill="none"/><circle cx="82.09" cy="596.3" r="1" fill="#2c50c4"/><path d="M86.18 593.8v5M84.38 594.5l3.6 3.6M84.38 598.1l3.6 -3.6" stroke="#3f56bc" stroke-width="0.7" stroke-opacity="1" fill="none"/><circle cx="86.18" cy="596.3" r="1" fill="#2c50c4"/><path d="M90.27 593.8v5M88.47 594.5l3.6 3.6M88.47 598.1l3.6 -3.6" stroke="#3f56bc" stroke-width="0.7" stroke-opacity="1" fill="none"/><circle cx="90.27" cy="596.3" r="1" fill="#2c50c4"/><path d="M94.36 593.8v5M92.56 594.5l3.6 3.6M92.56 598.1l3.6 -3.6" stroke="#3f56bc" stroke-width="0.7" stroke-opacity="1" fill="none"/><circle cx="94.36" cy="596.3" r="1" fill="#2c50c4"/><path d="M98.45 593.8v5M96.65 594.5l3.6 3.6M96.65 598.1l3.6 -3.6" stroke="#3f56bc" stroke-width="0.7" stroke-opacity="1" fill="none"/><circle cx="98.45" cy="596.3" r="1" fill="#2c50c4"/><path d="M102.55 593.8v5M100.75 594.5l3.6 3.6M100.75 598.1l3.6 -3.6" stroke="#3f56bc" stroke-width="0.7" stroke-opacity="1" fill="none"/><circle cx="102.55" cy="596.3" r="1" fill="#2c50c4"/><path d="M106.64 593.8v5M104.84 594.5l3.6 3.6M104.84 598.1l3.6 -3.6" stroke="#3f56bc" stroke-width="0.7" stroke-opacity="1" fill="none"/><circle cx="106.64" cy="596.3" r="1" fill="#2c50c4"/><path d="M110.73 593.8v5M108.93 594.5l3.6 3.6M108.93 598.1l3.6 -3.6" stroke="#3f56bc" stroke-width="0.7" stroke-opacity="1" fill="none"/><circle cx="110.73" cy="596.3" r="1" fill="#2c50c4"/><path d="M114.82 593.8v5M113.02 594.5l3.6 3.6M113.02 598.1l3.6 -3.6" stroke="#3f56bc" stroke-width="0.7" stroke-opacity="1" fill="none"/><circle cx="114.82" cy="596.3" r="1" fill="#2c50c4"/><path d="M118.91 593.8v5M117.11 594.5l3.6 3.6M117.11 598.1l3.6 -3.6" stroke="#3f56bc" stroke-width="0.7" stroke-opacity="1" fill="none"/><circle cx="118.91" cy="596.3" r="1" fill="#2c50c4"/><path d="M123 593.8v5M121.2 594.5l3.6 3.6M121.2 598.1l3.6 -3.6" stroke="#3f56bc" stroke-width="0.7" stroke-opacity="1" fill="none"/><circle cx="123" cy="596.3" r="1" fill="#2c50c4"/><path d="M127.09 593.8v5M125.29 594.5l3.6 3.6M125.29 598.1l3.6 -3.6" stroke="#3f56bc" stroke-width="0.7" stroke-opacity="1" fill="none"/><circle cx="127.09" cy="596.3" r="1" fill="#2c50c4"/><path d="M131.18 593.8v5M129.38 594.5l3.6 3.6M129.38 598.1l3.6 -3.6" stroke="#3f56bc" stroke-width="0.7" stroke-opacity="1" fill="none"/><circle cx="131.18" cy="596.3" r="1" fill="#2c50c4"/><path d="M135.27 593.8v5M133.47 594.5l3.6 3.6M133.47 598.1l3.6 -3.6" stroke="#3f56bc" stroke-width="0.7" stroke-opacity="1" fill="none"/><circle cx="135.27" cy="596.3" r="1" fill="#2c50c4"/><path d="M139.36 593.8v5M137.56 594.5l3.6 3.6M137.56 598.1l3.6 -3.6" stroke="#3f56bc" stroke-width="0.7" stroke-opacity="1" fill="none"/><circle cx="139.36" cy="596.3" r="1" fill="#2c50c4"/><path d="M143.45 593.8v5M141.65 594.5l3.6 3.6M141.65 598.1l3.6 -3.6" stroke="#3f56bc" stroke-width="0.7" stroke-opacity="1" fill="none"/><circle cx="143.45" cy="596.3" r="1" fill="#2c50c4"/><path d="M147.55 593.8v5M145.75 594.5l3.6 3.6M145.75 598.1l3.6 -3.6" stroke="#3f56bc" stroke-width="0.7" stroke-opacity="1" fill="none"/><circle cx="147.55" cy="596.3" r="1" fill="#2c50c4"/><path d="M151.64 593.8v5M149.84 594.5l3.6 3.6M149.84 598.1l3.6 -3.6" stroke="#3f56bc" stroke-width="0.7" stroke-opacity="1" fill="none"/><circle cx="151.64" cy="596.3" r="1" fill="#2c50c4"/><path d="M155.73 593.8v5M153.93 594.5l3.6 3.6M153.93 598.1l3.6 -3.6" stroke="#3f56bc" stroke-width="0.7" stroke-opacity="1" fill="none"/><circle cx="155.73" cy="596.3" r="1" fill="#2c50c4"/><path d="M159.82 593.8v5M158.02 594.5l3.6 3.6M158.02 598.1l3.6 -3.6" stroke="#3f56bc" stroke-width="0.7" stroke-opacity="1" fill="none"/><circle cx="159.82" cy="596.3" r="1" fill="#2c50c4"/><path d="M163.91 593.8v5M162.11 594.5l3.6 3.6M162.11 598.1l3.6 -3.6" stroke="#3f56bc" stroke-width="0.7" stroke-opacity="1" fill="none"/><circle cx="163.91" cy="596.3" r="1" fill="#2c50c4"/><path d="M168 593.8v5M166.2 594.5l3.6 3.6M166.2 598.1l3.6 -3.6" stroke="#3f56bc" stroke-width="0.7" stroke-opacity="1" fill="none"/><circle cx="168" cy="596.3" r="1" fill="#2c50c4"/><rect x="111.5" y="432.8" width="48.8" height="40.1" fill="#fff" stroke="#9a9a9a" stroke-width="1"/><path d="M114.3 440.5h19.6" stroke="#66c456" stroke-width="0.75"/><circle cx="124.1" cy="440.5" r="2.3" fill="none" stroke="#66c456" stroke-width="0.8"/><text x="137.7" y="444.1" font-size="10.3">DCH</text><path d="M114.3 452.9h19.6" stroke="#f0484a" stroke-width="0.75"/><rect x="122.1" y="450.9" width="4" height="4" fill="none" stroke="#f0484a" stroke-width="0.8"/><text x="137.7" y="456.5" font-size="10.3">DCD</text><path d="M114.3 465.4h19.6" stroke="#6f80cc" stroke-width="0.75"/><path d="M121.2 465.4h5.8M124.1 462.5v5.8M122.01 463.31l4.18 4.18M122.01 467.49l4.18 -4.18" stroke="#3550b8" stroke-width="0.72" stroke-opacity="1" fill="none"/><circle cx="124.1" cy="465.4" r="1.1" fill="#1f3aa8"/><text x="137.7" y="469" font-size="10.3">DCB</text></g>
<g><rect x="211" y="425" width="136" height="172" fill="none" stroke="#b4b4b4" stroke-width="1.2"/><path d="M245.4 597v-2M245.4 425v2M292.4 597v-2M292.4 425v2M339.7 597v-2M339.7 425v2M211 596.4h2M347 596.4h-2M211 560.1h2M347 560.1h-2M211 524.2h2M347 524.2h-2M211 487.7h2M347 487.7h-2M211 451.8h2M347 451.8h-2" stroke="#777" stroke-width="0.7" fill="none"/><text x="248.3" y="611.6" font-size="11.5" text-anchor="middle">0.2</text><text x="295.2" y="611.6" font-size="11.5" text-anchor="middle">0.4</text><text x="342" y="611.6" font-size="11.5" text-anchor="middle">0.6</text><text x="208.9" y="600.8" font-size="11.5" text-anchor="end">0</text><text x="210" y="564.5" font-size="11.5" text-anchor="end">0.2</text><text x="210" y="528.6" font-size="11.5" text-anchor="end">0.4</text><text x="210" y="492.1" font-size="11.5" text-anchor="end">0.6</text><text x="210" y="456.2" font-size="11.5" text-anchor="end">0.8</text><text x="281.3" y="627.1" font-size="12.8" text-anchor="middle">f</text><text x="0" y="0" font-size="13.5" text-anchor="middle" transform="translate(183.7 509.1) rotate(-90) scale(0.92 1)" dy="4.4">G</text><text x="185" y="431.3" font-size="13.5">f</text><g clip-path="url(#cef)"><path d="M285.72 499V505M284.42 499h2.6M284.42 505h2.6M290.39 499.9V517.9M289.09 499.9h2.6M289.09 517.9h2.6M295.06 501.8V530.6M293.76 501.8h2.6M293.76 530.6h2.6M299.73 509V535.6M298.43 509h2.6M298.43 535.6h2.6M304.4 516.6V540.6M303.1 516.6h2.6M303.1 540.6h2.6M309.07 521.4V551.4M307.77 521.4h2.6M307.77 551.4h2.6M313.74 529.4V556.4M312.44 529.4h2.6M312.44 556.4h2.6M318.41 536.1V565.3M317.11 536.1h2.6M317.11 565.3h2.6M323.08 546.1V579.1M321.78 546.1h2.6M321.78 579.1h2.6M327.75 562.1V597.3M326.45 562.1h2.6M326.45 597.3h2.6M332.42 582.9V599.9M331.12 582.9h2.6M331.12 599.9h2.6M337.09 591.1V596.1M335.79 591.1h2.6M335.79 596.1h2.6M341.76 593.5V596.5M340.46 593.5h2.6M340.46 596.5h2.6" stroke="#8fd882" stroke-width="0.7" fill="none"/><path d="M220.34 440.6V443.1M219.04 439.1h2.6M219.04 443.1h2.6M225.01 447V452.9M223.71 446.9h2.6M223.71 452.9h2.6M229.68 455V465M228.38 455h2.6M228.38 465h2.6M234.35 462.1V504.7M233.05 456.7h2.6M233.05 504.7h2.6M239.02 587.2V603.2M237.72 587.2h2.6M237.72 603.2h2.6" stroke="#f06a6a" stroke-width="0.7" fill="none"/><path d="M220.34 436.6V440.6M219.04 436.6h2.6M219.04 440.6h2.6M225.01 443V447M223.71 443h2.6M223.71 447h2.6M229.68 449V455M228.38 449h2.6M228.38 455h2.6M234.35 456.1V462.1M233.05 456.1h2.6M233.05 462.1h2.6M239.02 464V472M237.72 464h2.6M237.72 472h2.6M243.69 462.9V495.9M242.39 462.9h2.6M242.39 495.9h2.6M248.36 476.2V508.2M247.06 476.2h2.6M247.06 508.2h2.6M253.03 489.8V533.8M251.73 489.8h2.6M251.73 533.8h2.6M257.7 571V611.8M256.4 571h2.6M256.4 611.8h2.6" stroke="#8d9bd8" stroke-width="0.7" fill="none"/></g><polyline points="211,423.5 215.67,427.4 220.34,431.7 225.01,436 229.68,441.1 234.35,445.4 239.02,450.2 243.69,454.9 248.36,460 253.03,464.6 257.7,469.8 262.37,475.5 267.04,481.4 271.71,485 276.38,490.5 281.05,496 285.72,502 290.39,508.9 295.06,516.2 299.73,522.3 304.4,528.6 309.07,536.4 313.74,542.9 318.41,550.7 323.08,562.6 327.75,579.7 332.42,591.4 337.09,593.6 341.76,595 346.43,595.7" fill="none" stroke="#78cc68" stroke-width="0.75"/><circle cx="211" cy="423.5" r="2.3" fill="none" stroke="#66c456" stroke-width="0.8"/><circle cx="215.67" cy="427.4" r="2.3" fill="none" stroke="#66c456" stroke-width="0.8"/><circle cx="220.34" cy="431.7" r="2.3" fill="none" stroke="#66c456" stroke-width="0.8"/><circle cx="225.01" cy="436" r="2.3" fill="none" stroke="#66c456" stroke-width="0.8"/><circle cx="229.68" cy="441.1" r="2.3" fill="none" stroke="#66c456" stroke-width="0.8"/><circle cx="234.35" cy="445.4" r="2.3" fill="none" stroke="#66c456" stroke-width="0.8"/><circle cx="239.02" cy="450.2" r="2.3" fill="none" stroke="#66c456" stroke-width="0.8"/><circle cx="243.69" cy="454.9" r="2.3" fill="none" stroke="#66c456" stroke-width="0.8"/><circle cx="248.36" cy="460" r="2.3" fill="none" stroke="#66c456" stroke-width="0.8"/><circle cx="253.03" cy="464.6" r="2.3" fill="none" stroke="#66c456" stroke-width="0.8"/><circle cx="257.7" cy="469.8" r="2.3" fill="none" stroke="#66c456" stroke-width="0.8"/><circle cx="262.37" cy="475.5" r="2.3" fill="none" stroke="#66c456" stroke-width="0.8"/><circle cx="267.04" cy="481.4" r="2.3" fill="none" stroke="#66c456" stroke-width="0.8"/><circle cx="271.71" cy="485" r="2.3" fill="none" stroke="#66c456" stroke-width="0.8"/><circle cx="276.38" cy="490.5" r="2.3" fill="none" stroke="#66c456" stroke-width="0.8"/><circle cx="281.05" cy="496" r="2.3" fill="none" stroke="#66c456" stroke-width="0.8"/><circle cx="285.72" cy="502" r="2.3" fill="none" stroke="#66c456" stroke-width="0.8"/><circle cx="290.39" cy="508.9" r="2.3" fill="none" stroke="#66c456" stroke-width="0.8"/><circle cx="295.06" cy="516.2" r="2.3" fill="none" stroke="#66c456" stroke-width="0.8"/><circle cx="299.73" cy="522.3" r="2.3" fill="none" stroke="#66c456" stroke-width="0.8"/><circle cx="304.4" cy="528.6" r="2.3" fill="none" stroke="#66c456" stroke-width="0.8"/><circle cx="309.07" cy="536.4" r="2.3" fill="none" stroke="#66c456" stroke-width="0.8"/><circle cx="313.74" cy="542.9" r="2.3" fill="none" stroke="#66c456" stroke-width="0.8"/><circle cx="318.41" cy="550.7" r="2.3" fill="none" stroke="#66c456" stroke-width="0.8"/><circle cx="323.08" cy="562.6" r="2.3" fill="none" stroke="#66c456" stroke-width="0.8"/><circle cx="327.75" cy="579.7" r="2.3" fill="none" stroke="#66c456" stroke-width="0.8"/><circle cx="332.42" cy="591.4" r="2.3" fill="none" stroke="#66c456" stroke-width="0.8"/><circle cx="337.09" cy="593.6" r="2.3" fill="none" stroke="#66c456" stroke-width="0.8"/><circle cx="341.76" cy="595" r="2.3" fill="none" stroke="#66c456" stroke-width="0.8"/><circle cx="346.43" cy="595.7" r="2.3" fill="none" stroke="#66c456" stroke-width="0.8"/><polyline points="211,426.6 215.67,433.4 220.34,441.1 225.01,449.9 229.68,460 234.35,480.7 239.02,595.2 243.69,596.3 248.36,596.3 253.03,596.3 257.7,596.3 262.37,596.3 267.04,596.3 271.71,596.3 276.38,596.3 281.05,596.3 285.72,596.3 290.39,596.3 295.06,596.3 299.73,596.3 304.4,596.3 309.07,596.3 313.74,596.3 318.41,596.3 323.08,596.3 327.75,596.3 332.42,596.3 337.09,596.3 341.76,596.3 346.43,596.3" fill="none" stroke="#f0484a" stroke-width="0.75"/><rect x="208.8" y="424.4" width="4.4" height="4.4" fill="none" stroke="#f0484a" stroke-width="0.8"/><rect x="213.47" y="431.2" width="4.4" height="4.4" fill="none" stroke="#f0484a" stroke-width="0.8"/><rect x="218.14" y="438.9" width="4.4" height="4.4" fill="none" stroke="#f0484a" stroke-width="0.8"/><rect x="222.81" y="447.7" width="4.4" height="4.4" fill="none" stroke="#f0484a" stroke-width="0.8"/><rect x="227.48" y="457.8" width="4.4" height="4.4" fill="none" stroke="#f0484a" stroke-width="0.8"/><rect x="232.15" y="478.5" width="4.4" height="4.4" fill="none" stroke="#f0484a" stroke-width="0.8"/><rect x="236.82" y="593" width="4.4" height="4.4" fill="none" stroke="#f0484a" stroke-width="0.8"/><rect x="241.39" y="594" width="4.6" height="4.6" fill="none" stroke="#f06070" stroke-width="0.8"/><rect x="246.06" y="594" width="4.6" height="4.6" fill="none" stroke="#f06070" stroke-width="0.8"/><rect x="250.73" y="594" width="4.6" height="4.6" fill="none" stroke="#f06070" stroke-width="0.8"/><rect x="255.4" y="594" width="4.6" height="4.6" fill="none" stroke="#f06070" stroke-width="0.8"/><rect x="260.07" y="594" width="4.6" height="4.6" fill="none" stroke="#f06070" stroke-width="0.8"/><rect x="264.74" y="594" width="4.6" height="4.6" fill="none" stroke="#f06070" stroke-width="0.8"/><rect x="269.41" y="594" width="4.6" height="4.6" fill="none" stroke="#f06070" stroke-width="0.8"/><rect x="274.08" y="594" width="4.6" height="4.6" fill="none" stroke="#f06070" stroke-width="0.8"/><rect x="278.75" y="594" width="4.6" height="4.6" fill="none" stroke="#f06070" stroke-width="0.8"/><rect x="283.42" y="594" width="4.6" height="4.6" fill="none" stroke="#f06070" stroke-width="0.8"/><rect x="288.09" y="594" width="4.6" height="4.6" fill="none" stroke="#f06070" stroke-width="0.8"/><rect x="292.76" y="594" width="4.6" height="4.6" fill="none" stroke="#f06070" stroke-width="0.8"/><rect x="297.43" y="594" width="4.6" height="4.6" fill="none" stroke="#f06070" stroke-width="0.8"/><rect x="302.1" y="594" width="4.6" height="4.6" fill="none" stroke="#f06070" stroke-width="0.8"/><rect x="306.77" y="594" width="4.6" height="4.6" fill="none" stroke="#f06070" stroke-width="0.8"/><rect x="311.44" y="594" width="4.6" height="4.6" fill="none" stroke="#f06070" stroke-width="0.8"/><rect x="316.11" y="594" width="4.6" height="4.6" fill="none" stroke="#f06070" stroke-width="0.8"/><rect x="320.78" y="594" width="4.6" height="4.6" fill="none" stroke="#f06070" stroke-width="0.8"/><rect x="325.45" y="594" width="4.6" height="4.6" fill="none" stroke="#f06070" stroke-width="0.8"/><rect x="330.12" y="594" width="4.6" height="4.6" fill="none" stroke="#f06070" stroke-width="0.8"/><rect x="334.79" y="594" width="4.6" height="4.6" fill="none" stroke="#f06070" stroke-width="0.8"/><rect x="339.46" y="594" width="4.6" height="4.6" fill="none" stroke="#f06070" stroke-width="0.8"/><rect x="344.13" y="594" width="4.6" height="4.6" fill="none" stroke="#f06070" stroke-width="0.8"/><polyline points="211,425.7 215.67,432.6 220.34,438.6 225.01,445 229.68,452 234.35,459.1 239.02,468 243.69,479.4 248.36,492.2 253.03,511.8 257.7,591.4 262.37,596.3 267.04,596.3 271.71,596.3 276.38,596.3 281.05,596.3 285.72,596.3 290.39,596.3 295.06,596.3 299.73,596.3 304.4,596.3 309.07,596.3 313.74,596.3 318.41,596.3 323.08,596.3 327.75,596.3 332.42,596.3 337.09,596.3 341.76,596.3 346.43,596.3" fill="none" stroke="#6f80cc" stroke-width="0.75"/><path d="M208.1 425.7h5.8M211 422.8v5.8M208.91 423.61l4.18 4.18M208.91 427.79l4.18 -4.18" stroke="#3550b8" stroke-width="0.72" stroke-opacity="1" fill="none"/><circle cx="211" cy="425.7" r="1.1" fill="#1f3aa8"/><path d="M212.77 432.6h5.8M215.67 429.7v5.8M213.58 430.51l4.18 4.18M213.58 434.69l4.18 -4.18" stroke="#3550b8" stroke-width="0.72" stroke-opacity="1" fill="none"/><circle cx="215.67" cy="432.6" r="1.1" fill="#1f3aa8"/><path d="M217.44 438.6h5.8M220.34 435.7v5.8M218.25 436.51l4.18 4.18M218.25 440.69l4.18 -4.18" stroke="#3550b8" stroke-width="0.72" stroke-opacity="1" fill="none"/><circle cx="220.34" cy="438.6" r="1.1" fill="#1f3aa8"/><path d="M222.11 445h5.8M225.01 442.1v5.8M222.92 442.91l4.18 4.18M222.92 447.09l4.18 -4.18" stroke="#3550b8" stroke-width="0.72" stroke-opacity="1" fill="none"/><circle cx="225.01" cy="445" r="1.1" fill="#1f3aa8"/><path d="M226.78 452h5.8M229.68 449.1v5.8M227.59 449.91l4.18 4.18M227.59 454.09l4.18 -4.18" stroke="#3550b8" stroke-width="0.72" stroke-opacity="1" fill="none"/><circle cx="229.68" cy="452" r="1.1" fill="#1f3aa8"/><path d="M231.45 459.1h5.8M234.35 456.2v5.8M232.26 457.01l4.18 4.18M232.26 461.19l4.18 -4.18" stroke="#3550b8" stroke-width="0.72" stroke-opacity="1" fill="none"/><circle cx="234.35" cy="459.1" r="1.1" fill="#1f3aa8"/><path d="M236.12 468h5.8M239.02 465.1v5.8M236.93 465.91l4.18 4.18M236.93 470.09l4.18 -4.18" stroke="#3550b8" stroke-width="0.72" stroke-opacity="1" fill="none"/><circle cx="239.02" cy="468" r="1.1" fill="#1f3aa8"/><path d="M240.79 479.4h5.8M243.69 476.5v5.8M241.6 477.31l4.18 4.18M241.6 481.49l4.18 -4.18" stroke="#3550b8" stroke-width="0.72" stroke-opacity="1" fill="none"/><circle cx="243.69" cy="479.4" r="1.1" fill="#1f3aa8"/><path d="M245.46 492.2h5.8M248.36 489.3v5.8M246.27 490.11l4.18 4.18M246.27 494.29l4.18 -4.18" stroke="#3550b8" stroke-width="0.72" stroke-opacity="1" fill="none"/><circle cx="248.36" cy="492.2" r="1.1" fill="#1f3aa8"/><path d="M250.13 511.8h5.8M253.03 508.9v5.8M250.94 509.71l4.18 4.18M250.94 513.89l4.18 -4.18" stroke="#3550b8" stroke-width="0.72" stroke-opacity="1" fill="none"/><circle cx="253.03" cy="511.8" r="1.1" fill="#1f3aa8"/><path d="M254.8 591.4h5.8M257.7 588.5v5.8M255.61 589.31l4.18 4.18M255.61 593.49l4.18 -4.18" stroke="#3550b8" stroke-width="0.72" stroke-opacity="1" fill="none"/><circle cx="257.7" cy="591.4" r="1.1" fill="#1f3aa8"/><path d="M262.37 593.8v5M260.57 594.5l3.6 3.6M260.57 598.1l3.6 -3.6" stroke="#3f56bc" stroke-width="0.7" stroke-opacity="1" fill="none"/><circle cx="262.37" cy="596.3" r="1" fill="#2c50c4"/><path d="M267.04 593.8v5M265.24 594.5l3.6 3.6M265.24 598.1l3.6 -3.6" stroke="#3f56bc" stroke-width="0.7" stroke-opacity="1" fill="none"/><circle cx="267.04" cy="596.3" r="1" fill="#2c50c4"/><path d="M271.71 593.8v5M269.91 594.5l3.6 3.6M269.91 598.1l3.6 -3.6" stroke="#3f56bc" stroke-width="0.7" stroke-opacity="1" fill="none"/><circle cx="271.71" cy="596.3" r="1" fill="#2c50c4"/><path d="M276.38 593.8v5M274.58 594.5l3.6 3.6M274.58 598.1l3.6 -3.6" stroke="#3f56bc" stroke-width="0.7" stroke-opacity="1" fill="none"/><circle cx="276.38" cy="596.3" r="1" fill="#2c50c4"/><path d="M281.05 593.8v5M279.25 594.5l3.6 3.6M279.25 598.1l3.6 -3.6" stroke="#3f56bc" stroke-width="0.7" stroke-opacity="1" fill="none"/><circle cx="281.05" cy="596.3" r="1" fill="#2c50c4"/><path d="M285.72 593.8v5M283.92 594.5l3.6 3.6M283.92 598.1l3.6 -3.6" stroke="#3f56bc" stroke-width="0.7" stroke-opacity="1" fill="none"/><circle cx="285.72" cy="596.3" r="1" fill="#2c50c4"/><path d="M290.39 593.8v5M288.59 594.5l3.6 3.6M288.59 598.1l3.6 -3.6" stroke="#3f56bc" stroke-width="0.7" stroke-opacity="1" fill="none"/><circle cx="290.39" cy="596.3" r="1" fill="#2c50c4"/><path d="M295.06 593.8v5M293.26 594.5l3.6 3.6M293.26 598.1l3.6 -3.6" stroke="#3f56bc" stroke-width="0.7" stroke-opacity="1" fill="none"/><circle cx="295.06" cy="596.3" r="1" fill="#2c50c4"/><path d="M299.73 593.8v5M297.93 594.5l3.6 3.6M297.93 598.1l3.6 -3.6" stroke="#3f56bc" stroke-width="0.7" stroke-opacity="1" fill="none"/><circle cx="299.73" cy="596.3" r="1" fill="#2c50c4"/><path d="M304.4 593.8v5M302.6 594.5l3.6 3.6M302.6 598.1l3.6 -3.6" stroke="#3f56bc" stroke-width="0.7" stroke-opacity="1" fill="none"/><circle cx="304.4" cy="596.3" r="1" fill="#2c50c4"/><path d="M309.07 593.8v5M307.27 594.5l3.6 3.6M307.27 598.1l3.6 -3.6" stroke="#3f56bc" stroke-width="0.7" stroke-opacity="1" fill="none"/><circle cx="309.07" cy="596.3" r="1" fill="#2c50c4"/><path d="M313.74 593.8v5M311.94 594.5l3.6 3.6M311.94 598.1l3.6 -3.6" stroke="#3f56bc" stroke-width="0.7" stroke-opacity="1" fill="none"/><circle cx="313.74" cy="596.3" r="1" fill="#2c50c4"/><path d="M318.41 593.8v5M316.61 594.5l3.6 3.6M316.61 598.1l3.6 -3.6" stroke="#3f56bc" stroke-width="0.7" stroke-opacity="1" fill="none"/><circle cx="318.41" cy="596.3" r="1" fill="#2c50c4"/><path d="M323.08 593.8v5M321.28 594.5l3.6 3.6M321.28 598.1l3.6 -3.6" stroke="#3f56bc" stroke-width="0.7" stroke-opacity="1" fill="none"/><circle cx="323.08" cy="596.3" r="1" fill="#2c50c4"/><path d="M327.75 593.8v5M325.95 594.5l3.6 3.6M325.95 598.1l3.6 -3.6" stroke="#3f56bc" stroke-width="0.7" stroke-opacity="1" fill="none"/><circle cx="327.75" cy="596.3" r="1" fill="#2c50c4"/><path d="M332.42 593.8v5M330.62 594.5l3.6 3.6M330.62 598.1l3.6 -3.6" stroke="#3f56bc" stroke-width="0.7" stroke-opacity="1" fill="none"/><circle cx="332.42" cy="596.3" r="1" fill="#2c50c4"/><path d="M337.09 593.8v5M335.29 594.5l3.6 3.6M335.29 598.1l3.6 -3.6" stroke="#3f56bc" stroke-width="0.7" stroke-opacity="1" fill="none"/><circle cx="337.09" cy="596.3" r="1" fill="#2c50c4"/><path d="M341.76 593.8v5M339.96 594.5l3.6 3.6M339.96 598.1l3.6 -3.6" stroke="#3f56bc" stroke-width="0.7" stroke-opacity="1" fill="none"/><circle cx="341.76" cy="596.3" r="1" fill="#2c50c4"/><path d="M346.43 593.8v5M344.63 594.5l3.6 3.6M344.63 598.1l3.6 -3.6" stroke="#3f56bc" stroke-width="0.7" stroke-opacity="1" fill="none"/><circle cx="346.43" cy="596.3" r="1" fill="#2c50c4"/><rect x="289.3" y="432.8" width="49.2" height="40.1" fill="#fff" stroke="#9a9a9a" stroke-width="1"/><path d="M292.1 440.5h19.6" stroke="#66c456" stroke-width="0.75"/><circle cx="301.9" cy="440.5" r="2.3" fill="none" stroke="#66c456" stroke-width="0.8"/><text x="315.5" y="444.1" font-size="10.3">DCH</text><path d="M292.1 452.9h19.6" stroke="#f0484a" stroke-width="0.75"/><rect x="299.9" y="450.9" width="4" height="4" fill="none" stroke="#f0484a" stroke-width="0.8"/><text x="315.5" y="456.5" font-size="10.3">DCD</text><path d="M292.1 465.4h19.6" stroke="#6f80cc" stroke-width="0.75"/><path d="M299 465.4h5.8M301.9 462.5v5.8M299.81 463.31l4.18 4.18M299.81 467.49l4.18 -4.18" stroke="#3550b8" stroke-width="0.72" stroke-opacity="1" fill="none"/><circle cx="301.9" cy="465.4" r="1.1" fill="#1f3aa8"/><text x="315.5" y="469" font-size="10.3">DCB</text></g>
</svg></body></html>
